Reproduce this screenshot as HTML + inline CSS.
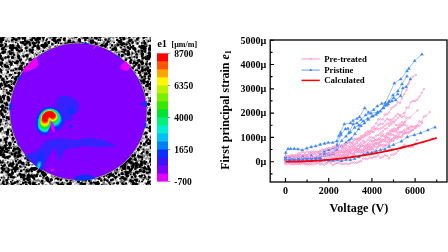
<!DOCTYPE html>
<html><head><meta charset="utf-8"><title>Strain figure</title>
<style>
html,body{margin:0;padding:0;background:#fff;}
svg{display:block;font-family:"Liberation Serif",serif;font-weight:bold;fill:#000;}
</style></head><body>
<svg width="448" height="252" viewBox="0 0 448 252">
<defs>
<filter id="spk" x="0" y="0" width="100%" height="100%" color-interpolation-filters="sRGB">
<feTurbulence type="fractalNoise" baseFrequency="0.35" numOctaves="2" seed="5" result="n"/>
<feColorMatrix type="matrix" values="1.8 0 0 0 -0.12  1.8 0 0 0 -0.12  1.8 0 0 0 -0.12  0 0 0 0 1"/>
</filter>
<filter id="soft" filterUnits="userSpaceOnUse" x="0" y="37" width="151" height="148"><feGaussianBlur stdDeviation="0.5"/></filter>
<filter id="soft2" filterUnits="userSpaceOnUse" x="0" y="37" width="151" height="148"><feGaussianBlur stdDeviation="0.35"/></filter>
<filter id="soft3" filterUnits="userSpaceOnUse" x="0" y="37" width="151" height="148"><feGaussianBlur stdDeviation="0.45"/></filter>
<clipPath id="imgclip"><rect x="0" y="37" width="151" height="148"/></clipPath>
<clipPath id="disk"><circle cx="78.3" cy="111.6" r="69.2"/></clipPath>
<clipPath id="nw0"><path clip-rule="evenodd" d="M0 0H160V200H0Z M51.4 124.8 L45.0 140 L61.0 140Z"/></clipPath>
<clipPath id="nw1"><path clip-rule="evenodd" d="M0 0H160V200H0Z M51.3 124.3 L44.4 140 L61.6 140Z"/></clipPath>
<clipPath id="nw2"><path clip-rule="evenodd" d="M0 0H160V200H0Z M51.2 123.9 L43.9 140 L62.1 140Z"/></clipPath>
<clipPath id="nw3"><path clip-rule="evenodd" d="M0 0H160V200H0Z M51.1 123.7 L43.6 140 L62.4 140Z"/></clipPath>
<clipPath id="nw4"><path clip-rule="evenodd" d="M0 0H160V200H0Z M51.1 123.5 L43.4 140 L62.6 140Z"/></clipPath>
<clipPath id="nw5"><path clip-rule="evenodd" d="M0 0H160V200H0Z M51.0 123.3 L43.2 140 L62.8 140Z"/></clipPath>
<clipPath id="nw6"><path clip-rule="evenodd" d="M0 0H160V200H0Z M51.0 123.2 L42.9 140 L63.1 140Z"/></clipPath>
<clipPath id="nw7"><path clip-rule="evenodd" d="M0 0H160V200H0Z M50.9 123.0 L42.7 140 L63.3 140Z"/></clipPath>
<clipPath id="nw8"><path clip-rule="evenodd" d="M0 0H160V200H0Z M50.9 122.8 L42.5 140 L63.5 140Z"/></clipPath>
<clipPath id="nw9"><path clip-rule="evenodd" d="M0 0H160V200H0Z M50.9 122.7 L42.3 140 L63.7 140Z"/></clipPath>
<clipPath id="nw10"><path clip-rule="evenodd" d="M0 0H160V200H0Z M50.8 122.5 L42.2 140 L63.8 140Z"/></clipPath>
<clipPath id="nw11"><path clip-rule="evenodd" d="M0 0H160V200H0Z M50.8 122.4 L42.0 140 L64.0 140Z"/></clipPath>
</defs>
<rect width="448" height="252" fill="#fff"/>
<!-- DIC strain map -->
<g clip-path="url(#imgclip)">
<rect x="0" y="37" width="151" height="148" fill="#fff" filter="url(#spk)"/>
<g filter="url(#soft3)">
<path stroke="#000" stroke-width="1.9" stroke-linecap="round" fill="none" d="M94.7 45.8h0M142.1 167.8h0M5.9 143.8h0M151.8 82.5h0M90.8 40.7h0M14.6 84.3h0M129.9 61.4h0M144.4 175.1h0M6.6 76.7h0M-0.7 44.2h0M5.8 49.8h0M133.7 62.9h0M142.0 45.2h0M104.7 179.0h0M145.7 164.1h0M130.4 171.0h0M17.8 175.8h0M5.4 111.7h0M16.2 76.6h0M148.5 139.0h0M6.7 90.0h0M15.7 42.4h0M33.2 36.4h0M28.9 67.4h0M3.2 52.5h0M74.0 45.0h0M6.9 145.2h0M141.7 81.1h0M89.6 36.5h0M12.9 61.6h0M143.8 49.2h0M136.2 145.9h0M35.8 43.3h0M29.5 170.0h0M110.4 47.6h0M52.6 185.4h0M43.7 176.1h0M13.7 144.4h0M5.2 147.8h0M43.0 51.5h0M61.9 47.6h0M134.7 157.1h0M148.8 41.3h0M1.0 100.9h0M6.8 117.9h0M138.6 157.3h0M145.8 59.3h0M28.8 174.1h0M144.3 177.6h0M11.1 70.5h0M124.1 36.8h0M146.1 46.4h0M82.6 43.1h0M7.4 149.9h0M58.6 184.1h0M19.1 57.8h0M52.9 173.2h0M46.9 39.2h0M141.7 163.3h0M146.4 162.0h0M132.5 53.2h0M130.9 161.3h0M148.4 76.5h0M11.5 84.1h0M0.1 160.9h0M148.8 139.7h0M150.7 45.9h0M135.8 160.0h0M12.5 132.2h0M44.7 171.0h0M7.4 108.3h0M59.8 45.9h0M47.1 177.2h0M111.2 171.4h0M58.4 43.0h0M113.1 174.2h0M134.3 56.7h0M49.2 181.7h0M43.4 39.7h0M18.3 185.9h0M55.0 185.9h0M0.8 107.0h0M12.6 180.6h0M146.5 64.7h0M146.2 36.9h0M91.1 40.3h0M26.8 50.7h0M148.3 78.3h0M134.8 72.6h0M124.4 46.6h0M7.6 171.7h0M43.1 177.9h0M2.8 166.7h0M25.8 155.3h0M7.1 92.9h0M135.3 49.7h0M100.3 40.3h0M87.2 36.1h0M0.1 41.7h0M34.0 185.6h0M93.5 182.3h0M26.6 155.8h0M128.3 42.4h0M132.3 168.5h0M114.0 183.4h0M10.9 181.8h0M-0.7 65.4h0M24.9 150.9h0M41.5 169.1h0M64.1 39.7h0M112.3 169.9h0M134.6 179.7h0M3.6 181.5h0M8.5 177.2h0M9.4 74.9h0M95.0 176.8h0M112.7 167.9h0M147.0 127.5h0M131.5 60.4h0M10.3 124.8h0M141.2 153.6h0M148.7 41.4h0M22.3 149.7h0M62.2 178.1h0M138.6 66.3h0M148.8 59.4h0M48.2 170.7h0M151.6 52.3h0M121.1 47.6h0M106.1 44.5h0M32.9 47.8h0M11.9 78.0h0M142.9 133.8h0M12.6 124.6h0M148.7 176.7h0M28.9 157.2h0M70.3 40.7h0M125.3 54.0h0M114.7 177.4h0M5.9 49.6h0M4.1 82.9h0M89.4 177.4h0M114.1 42.4h0M151.8 151.4h0M124.9 161.1h0M148.8 49.5h0M26.6 169.8h0M145.5 78.6h0M149.9 181.4h0M55.9 178.4h0M55.4 43.1h0M5.2 164.9h0M136.5 181.6h0M28.0 68.7h0M7.0 180.8h0M146.5 183.8h0M15.4 62.7h0M142.1 159.2h0M7.9 179.0h0M-0.7 101.9h0M15.6 135.1h0M61.0 43.4h0M1.4 72.5h0M149.1 79.3h0M25.9 55.5h0M31.3 159.7h0M3.3 153.1h0M0.8 99.2h0M2.8 150.5h0M6.1 41.5h0M144.1 90.9h0M150.1 89.4h0M34.3 179.4h0M91.1 44.0h0M7.8 158.2h0M132.0 166.3h0M147.8 120.1h0M138.9 79.4h0M43.6 47.2h0M13.4 164.1h0M34.5 175.3h0M17.7 159.6h0M8.9 85.8h0M138.3 37.7h0M39.0 184.0h0M122.4 36.9h0M143.4 179.7h0M78.4 44.8h0M19.7 161.4h0M56.9 36.2h0M6.3 152.0h0M128.5 172.2h0M43.4 50.9h0M12.0 183.2h0M50.7 180.8h0M61.3 179.0h0M23.9 37.6h0M11.3 147.9h0M142.4 61.4h0M13.1 53.1h0M1.1 113.2h0M25.5 38.0h0M122.0 45.3h0M121.1 60.7h0M2.5 39.7h0M32.7 49.7h0M1.0 56.3h0M13.6 70.5h0M95.4 42.6h0M47.4 45.2h0M148.5 142.9h0M8.3 168.4h0M142.6 70.3h0M85.6 37.8h0M114.0 169.8h0M73.6 36.2h0M145.7 132.8h0M6.2 184.4h0M44.6 172.6h0M28.2 180.5h0M33.6 42.4h0M149.3 57.7h0M13.1 162.5h0M143.0 87.4h0M98.5 36.7h0M80.3 184.0h0M44.7 52.5h0M145.4 176.8h0M116.4 166.2h0M100.4 37.8h0M24.3 175.7h0M25.4 158.4h0M123.0 174.3h0M23.0 177.4h0M37.6 163.6h0M132.5 162.7h0M24.0 169.7h0M110.1 185.8h0M122.7 165.6h0M7.1 78.5h0M150.9 83.4h0M38.3 40.9h0M121.8 170.5h0M24.4 37.1h0M26.6 66.2h0M146.0 46.5h0M6.6 102.7h0M7.8 162.1h0M49.7 182.2h0M10.6 177.1h0M62.2 182.5h0M141.5 84.0h0M91.8 37.3h0M146.7 74.6h0M1.4 165.3h0M104.0 176.8h0M15.8 68.4h0M-0.5 149.8h0M37.6 164.8h0M144.3 96.4h0M22.0 65.7h0M5.7 123.7h0M111.5 170.9h0M17.8 44.0h0M142.2 171.8h0M12.8 76.9h0M20.1 161.8h0M6.7 118.4h0M25.3 67.1h0M66.5 178.9h0M7.6 148.2h0M42.4 37.5h0M68.8 45.0h0M146.5 141.0h0M147.0 140.3h0M26.8 65.3h0M150.6 131.0h0M149.3 52.7h0M21.1 59.3h0M12.9 91.3h0M110.1 184.5h0M135.8 70.2h0M30.3 184.8h0M35.2 167.6h0M3.2 181.5h0M5.1 86.4h0M151.7 57.7h0M10.9 112.1h0M120.2 178.6h0M122.0 51.5h0M2.5 85.4h0M27.8 179.5h0M137.8 70.6h0M4.0 183.9h0M146.6 151.5h0M8.9 97.7h0M38.2 45.3h0M1.5 168.2h0M144.4 42.0h0M98.0 181.7h0M7.1 138.4h0M22.1 70.8h0M135.9 51.9h0M16.9 137.5h0M1.7 177.7h0M46.2 40.6h0M150.9 85.0h0M133.1 63.8h0M150.4 113.3h0M144.2 41.0h0M0.5 96.8h0M-0.2 124.7h0M63.9 38.5h0M50.2 49.2h0M6.5 120.4h0M8.8 150.6h0M11.1 74.8h0M145.1 47.3h0M143.5 151.9h0M2.0 66.8h0M1.2 89.0h0M5.8 140.1h0M4.3 103.2h0M94.5 182.6h0M20.8 147.6h0M5.9 76.1h0M142.0 181.4h0M141.2 46.5h0M143.3 149.5h0M13.4 151.3h0M150.4 56.6h0M0.4 63.1h0M148.0 182.8h0M133.0 48.8h0M129.2 43.4h0M146.4 73.1h0M40.0 176.1h0M26.5 164.8h0M142.9 134.1h0M148.4 179.8h0M79.1 44.0h0M11.7 52.9h0M130.8 174.5h0M84.6 36.9h0M125.3 174.8h0M10.5 62.2h0M141.9 43.0h0M147.2 61.5h0M11.8 164.5h0M145.1 105.4h0M20.3 60.8h0M123.1 49.4h0M142.1 153.0h0M85.6 179.4h0M-0.7 72.9h0M6.7 81.9h0M25.6 182.4h0M12.2 154.8h0M42.9 38.0h0M-0.6 103.0h0M36.0 169.5h0M12.2 177.4h0M116.7 176.7h0M74.9 43.3h0M150.7 40.7h0M128.2 168.4h0M120.5 57.6h0M147.1 140.6h0M41.4 56.8h0M28.7 158.1h0M60.5 185.3h0M7.6 66.0h0M72.0 178.5h0M121.1 39.7h0M77.2 43.2h0M8.9 81.4h0M130.2 45.3h0M115.4 178.6h0M55.4 36.5h0M36.8 42.0h0M14.9 169.9h0M20.8 175.2h0M85.2 180.4h0M45.7 178.1h0M12.6 134.6h0M106.4 175.9h0M7.8 82.2h0M56.2 182.7h0M55.1 176.3h0M5.3 95.4h0M36.8 54.7h0M139.3 181.2h0M34.2 45.2h0M98.5 40.0h0M85.8 42.9h0M12.0 170.3h0M0.6 45.7h0M133.4 72.0h0M43.7 47.4h0M20.4 161.7h0M108.3 177.2h0M101.9 184.6h0M137.7 62.7h0M13.7 91.3h0M25.4 167.2h0M108.9 39.1h0M4.6 164.8h0M143.9 81.2h0M61.0 37.4h0"/>
<path stroke="#000" stroke-width="2.6" stroke-linecap="round" fill="none" d="M34.9 185.3h0M3.7 165.8h0M108.3 174.2h0M31.3 160.7h0M132.5 42.6h0M133.8 183.1h0M93.9 177.1h0M148.6 114.2h0M0.8 98.3h0M2.1 128.4h0M8.2 130.1h0M2.4 45.1h0M146.4 73.7h0M117.2 40.0h0M133.6 184.0h0M33.8 46.2h0M5.9 171.5h0M87.3 38.0h0M62.3 176.9h0M129.7 48.9h0M11.2 62.8h0M105.4 46.7h0M134.8 154.9h0M4.5 151.1h0M108.4 52.0h0M21.8 50.4h0M2.5 107.9h0M21.0 184.7h0M126.7 159.2h0M111.2 180.0h0M0.1 86.2h0M88.5 179.3h0M13.8 177.2h0M146.1 136.9h0M16.2 152.8h0M27.3 64.4h0M144.2 93.5h0M-0.6 151.6h0M80.0 41.6h0M19.7 154.9h0M140.8 143.4h0M141.6 165.2h0M29.6 60.1h0M26.6 170.9h0M118.8 57.5h0M106.6 43.7h0M32.5 50.1h0M29.7 182.1h0M4.2 81.7h0M129.0 53.2h0M141.1 62.2h0M35.3 162.5h0M133.4 166.8h0M55.6 46.8h0M145.2 51.7h0M15.9 48.1h0M16.0 161.3h0M0.5 55.7h0M38.8 42.6h0M24.8 38.6h0M136.2 171.9h0M150.8 118.1h0M92.7 40.6h0M138.5 51.4h0M136.0 180.0h0M11.2 114.9h0M26.2 184.9h0M6.5 180.1h0M148.9 72.9h0M144.5 108.8h0M7.1 182.8h0M116.2 49.9h0M42.2 181.0h0M132.9 184.0h0M57.8 183.2h0M21.4 69.0h0M17.5 168.0h0M12.0 40.2h0M134.3 66.3h0M42.5 183.3h0M138.2 164.6h0M30.1 45.0h0M27.5 41.7h0M126.5 44.5h0M16.0 69.1h0M135.5 168.7h0M150.2 161.4h0M43.6 37.6h0M140.2 166.3h0M146.3 63.9h0M144.8 163.2h0M56.0 42.5h0M23.2 183.1h0M23.7 56.5h0M11.7 153.8h0M68.7 185.1h0M-0.7 78.2h0M25.1 40.9h0M13.7 83.4h0M36.9 174.7h0M137.6 43.2h0M102.5 174.9h0M112.8 179.5h0M7.9 71.9h0M136.6 54.3h0M137.5 173.1h0M140.2 82.7h0M15.3 170.8h0M16.4 83.5h0M55.0 37.6h0M108.5 41.6h0M142.4 68.1h0M1.2 64.8h0M147.4 68.5h0M18.6 163.0h0M60.9 179.8h0M32.1 51.1h0M143.9 133.5h0M10.1 108.7h0M39.2 55.9h0M29.5 179.6h0M101.7 36.2h0M8.9 118.9h0M13.4 163.7h0M130.9 158.8h0M127.7 175.8h0M133.3 149.9h0M112.2 175.3h0M134.1 36.0h0M146.2 168.7h0M86.4 177.8h0M3.8 154.9h0M141.5 156.7h0M0.8 120.8h0M33.0 42.9h0M126.4 65.6h0M9.6 61.8h0M17.5 181.6h0M145.0 106.5h0M15.7 168.6h0M22.8 74.4h0M93.0 177.7h0M25.4 182.3h0M85.0 183.8h0M34.4 161.7h0M5.5 107.8h0M-0.3 180.1h0M15.1 62.7h0M135.5 159.3h0M10.6 163.8h0M15.2 182.5h0M18.7 58.3h0M100.5 49.2h0M38.1 171.7h0M32.0 168.4h0M2.5 162.5h0M52.6 39.7h0M2.4 109.4h0M96.2 43.8h0M148.6 119.3h0M130.7 163.3h0M150.7 159.0h0M115.8 173.2h0M13.5 89.7h0M132.0 177.1h0M152.0 66.8h0M29.7 36.1h0M14.1 183.2h0M125.6 179.0h0M0.4 64.3h0M29.5 59.7h0M58.0 40.0h0M21.2 177.1h0M96.8 185.1h0M104.2 172.8h0M52.4 36.5h0M134.2 62.2h0M19.3 76.7h0M141.7 175.8h0M11.1 94.6h0M38.0 58.4h0M28.6 171.2h0M11.4 175.9h0M8.1 156.7h0M34.7 185.7h0M84.4 37.7h0M21.1 78.5h0M132.0 168.6h0M10.1 164.7h0M0.1 45.4h0M1.9 109.7h0M38.3 37.6h0M150.2 143.5h0M48.1 181.0h0M17.3 168.8h0M12.6 37.0h0M10.3 90.8h0M109.4 182.6h0M99.8 36.8h0M0.8 98.8h0M21.2 170.9h0M108.8 177.3h0M125.5 171.7h0M41.5 45.6h0M3.7 47.7h0M124.0 52.2h0M48.1 179.2h0M0.6 162.5h0M9.3 148.1h0M5.2 65.0h0M150.5 121.3h0M21.5 163.3h0M38.0 39.2h0M71.8 43.0h0M10.2 145.1h0M21.0 42.5h0M33.3 177.5h0M143.8 37.6h0M142.5 91.0h0M35.5 45.8h0M13.9 38.9h0M143.6 47.8h0M120.4 37.6h0M12.3 134.6h0M129.9 57.8h0M28.4 162.8h0M147.9 84.6h0M137.6 171.7h0M20.3 166.6h0M-0.5 68.9h0M119.0 41.3h0M137.2 39.1h0M13.6 48.0h0M149.3 172.2h0M30.1 183.2h0M22.8 70.3h0M31.3 52.0h0M69.0 41.3h0M115.0 169.2h0M9.2 165.8h0M145.9 120.5h0M0.6 140.4h0M125.2 166.3h0M15.2 171.6h0M117.1 169.6h0M1.3 46.3h0M125.8 59.9h0M34.0 178.2h0M36.5 39.1h0M151.6 82.1h0M95.7 36.5h0M105.0 173.2h0M52.3 44.3h0M123.4 184.9h0M133.1 46.4h0M145.3 106.9h0M13.1 99.5h0M40.7 56.5h0M12.3 164.7h0M2.4 149.1h0M89.3 180.7h0M23.5 72.4h0M47.4 177.8h0M32.6 52.8h0M10.6 109.3h0M144.6 161.6h0M6.2 86.0h0M151.6 40.0h0M151.3 98.2h0M5.1 157.6h0M15.2 142.0h0M14.0 54.8h0M29.7 43.4h0M4.1 155.6h0M150.6 126.7h0M70.0 43.1h0M148.6 58.4h0M140.5 75.2h0M33.9 59.6h0M17.9 156.6h0M5.4 111.9h0M101.5 185.8h0M109.8 175.3h0M81.4 183.0h0M58.8 185.5h0M28.7 165.0h0M18.7 37.1h0M122.4 165.9h0M4.4 110.5h0M102.0 45.0h0M44.4 45.4h0M131.4 39.8h0M144.0 104.0h0M5.9 44.5h0M63.5 176.1h0M105.4 39.6h0M146.3 142.3h0M31.4 175.6h0M38.2 45.7h0M48.9 42.8h0M7.9 67.0h0M104.6 180.0h0M148.3 166.8h0M6.8 117.3h0M11.9 119.5h0M120.8 60.0h0M121.7 165.9h0M7.2 152.0h0M102.6 173.0h0M33.7 44.3h0M131.2 47.3h0M138.3 155.7h0M132.0 177.3h0M130.7 62.8h0M121.1 166.3h0M3.0 106.3h0M15.6 85.6h0M70.6 180.0h0M5.5 46.3h0M13.3 150.6h0M42.5 54.0h0M7.0 157.3h0M136.8 57.5h0M150.0 45.8h0M131.0 60.3h0M10.4 45.4h0M142.0 46.5h0M5.5 57.5h0M3.9 98.4h0M121.9 165.8h0M147.2 172.8h0M16.3 152.9h0M1.4 150.7h0M144.0 83.3h0M137.0 142.7h0M132.7 156.2h0M34.1 43.4h0M22.8 38.4h0M150.9 127.2h0M141.3 161.5h0M12.0 185.0h0M64.8 38.5h0M22.2 175.1h0M112.0 45.4h0M151.4 87.5h0M7.2 138.1h0M144.7 76.2h0M5.0 65.7h0M104.3 45.8h0M151.7 181.3h0M85.3 40.0h0M148.1 71.1h0M140.5 147.0h0M135.8 64.4h0M2.4 154.9h0M146.5 133.0h0M-0.5 124.6h0M9.6 156.5h0M142.4 55.8h0M119.1 175.1h0M148.4 166.2h0M137.9 82.7h0M147.9 67.9h0M139.7 176.2h0M139.1 68.1h0M11.2 81.5h0M36.7 168.5h0M139.6 46.5h0M120.8 44.2h0M20.6 66.2h0M20.2 60.3h0M149.3 119.4h0M3.8 185.0h0M139.9 166.7h0M-0.5 148.5h0M53.9 38.4h0M151.1 128.4h0M19.3 47.5h0M121.3 42.2h0M113.6 176.1h0M150.8 70.4h0M142.1 157.6h0M137.5 167.2h0M12.6 90.8h0M34.0 168.2h0M107.4 180.6h0M0.9 119.8h0M151.1 71.1h0M2.1 79.6h0M2.0 168.2h0M30.5 160.6h0M110.5 173.4h0M150.3 83.7h0M16.4 79.7h0M11.5 131.0h0M127.9 160.0h0M15.2 73.0h0M48.5 50.2h0M15.6 81.8h0M118.9 54.8h0M16.8 165.0h0M135.4 176.5h0M142.2 128.3h0M149.4 177.5h0M145.5 48.5h0M135.7 163.0h0M1.2 58.5h0M11.8 115.1h0M134.5 159.5h0M101.3 180.5h0M29.8 176.7h0M17.9 45.6h0M29.1 42.2h0M142.6 81.4h0M9.5 51.5h0M52.0 172.2h0M55.4 37.6h0M129.2 54.5h0M7.0 82.5h0M6.1 142.0h0M148.0 56.1h0M34.6 183.1h0M12.3 172.2h0M115.6 49.7h0M47.9 51.7h0M96.5 38.4h0M1.9 172.3h0M148.4 182.1h0M107.8 42.1h0M136.4 166.3h0M116.0 177.2h0M150.3 140.8h0M150.6 100.9h0M49.0 42.1h0M42.9 174.5h0M8.8 170.3h0M145.3 50.6h0M4.7 151.8h0M64.4 39.9h0M123.5 168.8h0M122.4 183.3h0M6.6 132.1h0M31.7 171.3h0M145.2 74.1h0M19.4 38.5h0M141.7 48.1h0M73.7 44.2h0M70.3 184.5h0M4.4 169.1h0M12.9 96.6h0M28.8 182.6h0M126.0 183.5h0M7.8 172.5h0M151.1 184.7h0M-0.2 128.8h0M56.5 41.5h0M142.0 77.2h0M68.3 43.0h0M144.1 103.3h0M143.9 46.4h0M0.6 111.4h0M127.8 47.4h0M141.3 86.8h0M150.3 170.1h0M129.3 37.2h0M144.7 167.4h0M127.4 157.0h0M14.9 82.3h0M3.0 182.9h0M141.9 55.9h0M17.3 149.1h0M69.1 45.3h0M2.6 59.9h0"/>
<path stroke="#000" stroke-width="3.4" stroke-linecap="round" fill="none" d="M101.7 45.6h0M19.8 68.5h0M141.1 164.5h0M130.7 180.7h0M42.6 45.5h0M150.4 49.3h0M22.9 42.4h0M47.0 179.8h0M28.2 157.0h0M18.8 79.8h0M22.9 36.7h0M140.3 170.5h0M124.0 61.7h0M140.0 156.9h0M0.1 130.3h0M18.1 46.3h0M142.3 92.1h0M-0.3 57.5h0M127.8 54.2h0M144.7 122.9h0M11.7 111.0h0M12.1 49.9h0M16.2 169.1h0M9.5 143.4h0M3.6 156.5h0M85.6 179.9h0M10.9 116.8h0M59.7 40.0h0M13.3 138.4h0M7.3 134.1h0M121.9 173.6h0M2.5 106.0h0M0.8 70.5h0M26.2 47.9h0M16.2 39.6h0M32.3 60.8h0M149.9 127.8h0M144.1 171.5h0M61.3 185.6h0M148.4 182.9h0M6.7 66.6h0M70.3 182.9h0M19.8 149.7h0M100.8 175.3h0M129.2 160.1h0M19.1 73.5h0M145.5 57.6h0M28.0 159.4h0M28.4 176.9h0M132.1 155.1h0M91.0 183.1h0M9.6 99.8h0M117.9 44.9h0M3.5 116.8h0M125.7 161.7h0M132.3 68.4h0M142.5 54.0h0M66.7 44.4h0M149.9 87.9h0M30.1 50.0h0M33.1 183.8h0M148.1 85.0h0M46.2 45.4h0M5.1 145.9h0M110.3 51.6h0M139.0 65.2h0M148.9 56.7h0M143.9 80.0h0M21.2 68.3h0M37.9 38.7h0M142.5 70.4h0M127.2 176.1h0M30.2 59.2h0M17.4 61.5h0M149.2 53.2h0M11.0 117.1h0M128.4 167.5h0M151.8 137.5h0M19.9 145.3h0M34.9 60.7h0M44.3 47.0h0M126.2 64.8h0M73.8 42.7h0M96.1 45.3h0M106.4 44.7h0M125.6 161.0h0M148.9 168.8h0M115.3 48.5h0M8.1 99.3h0M61.3 184.8h0M148.5 104.3h0M12.4 88.6h0M3.0 52.5h0M133.3 164.4h0M18.2 156.0h0M112.9 49.3h0M150.2 130.7h0M146.7 94.4h0M99.0 178.3h0M149.8 48.4h0M95.3 37.1h0M45.3 174.6h0M10.3 53.4h0M49.9 51.2h0M26.0 69.9h0M28.3 159.2h0M150.2 154.8h0M0.6 154.4h0M6.3 104.1h0M151.7 164.4h0M138.6 81.7h0M1.6 101.9h0M66.8 180.0h0M51.3 179.8h0M16.0 167.3h0M105.6 50.7h0M116.8 36.1h0M28.1 175.7h0M18.9 152.3h0M151.5 147.6h0M58.0 178.5h0M38.0 47.5h0M123.5 36.4h0M2.5 48.9h0M111.1 175.1h0M27.4 178.9h0M10.1 117.8h0M31.6 169.2h0M107.7 173.5h0M5.1 139.3h0M15.6 78.8h0M6.9 104.4h0M18.6 76.4h0M12.7 45.7h0M14.1 168.6h0M136.3 163.2h0M149.6 70.4h0M101.0 46.1h0M147.5 58.7h0M138.3 149.5h0M144.2 144.2h0M19.3 51.1h0M2.8 39.6h0M0.1 147.8h0M68.2 184.1h0M82.1 44.0h0M96.4 183.4h0M131.6 162.9h0M134.2 174.3h0M14.4 148.9h0M3.2 169.8h0M14.8 154.0h0M45.4 43.8h0M0.1 38.8h0M93.2 42.1h0M10.9 53.3h0M149.8 54.4h0M27.0 42.4h0M128.7 161.2h0M94.7 47.1h0M127.8 160.1h0M64.1 46.5h0M11.2 64.2h0M82.7 179.3h0M20.0 174.1h0M142.3 63.6h0M17.2 49.6h0M46.9 52.7h0M130.4 170.0h0M132.5 181.2h0M28.4 175.4h0M124.9 168.4h0M147.4 82.1h0M123.3 167.9h0M150.1 63.9h0M129.8 40.8h0M79.4 39.8h0M98.3 183.6h0M18.6 56.4h0M0.5 76.6h0M78.4 181.5h0M3.0 37.5h0M12.0 165.8h0M12.7 47.3h0M122.3 55.4h0M16.6 135.1h0M32.9 176.8h0M124.7 179.0h0M82.6 178.6h0M8.4 93.3h0M144.7 168.1h0M140.0 81.2h0M123.6 162.2h0M11.3 122.0h0M1.1 151.8h0M145.3 69.6h0M33.7 37.4h0M5.0 84.3h0M63.0 185.3h0M136.4 184.3h0M127.9 172.7h0M4.4 51.9h0M2.9 79.3h0M68.5 178.2h0M24.1 175.5h0M1.1 41.7h0M144.9 43.4h0M39.2 170.7h0M11.7 110.0h0M138.8 60.4h0M139.4 72.5h0M151.3 141.4h0M136.5 165.7h0M8.1 97.4h0M9.3 174.8h0M12.5 57.4h0M0.1 121.4h0M135.8 63.1h0M142.2 162.8h0M36.3 185.7h0M6.2 148.6h0M65.3 176.6h0M12.6 163.9h0M0.0 86.6h0M9.9 143.3h0M28.7 65.8h0M148.6 143.5h0M131.3 69.2h0M40.0 36.0h0M20.3 155.5h0M25.0 44.4h0M38.8 48.3h0M1.8 62.9h0M12.3 173.2h0M124.4 164.8h0M2.1 114.5h0M44.0 175.2h0M19.4 141.4h0M42.2 172.6h0M91.3 42.3h0M24.3 179.0h0M65.8 43.9h0M136.5 180.3h0M122.6 177.5h0M117.5 183.1h0M3.4 168.9h0M7.7 132.1h0M76.3 36.5h0M82.8 184.3h0M8.7 85.8h0M69.0 41.2h0M142.9 58.1h0M14.9 155.6h0M17.9 148.5h0M20.3 161.6h0M22.8 63.1h0M42.2 54.9h0M44.2 169.5h0M119.7 41.7h0M150.1 109.9h0M9.0 99.2h0M42.9 172.2h0M10.5 87.3h0M150.5 75.8h0M125.1 50.0h0M69.1 43.5h0M146.7 85.7h0M142.6 63.3h0M27.2 55.5h0M39.3 38.8h0M128.1 51.6h0M129.3 158.4h0M16.9 62.8h0M8.2 56.9h0M54.5 40.4h0M17.0 81.3h0M11.3 113.0h0M144.2 81.5h0M23.0 163.2h0M36.4 175.9h0M142.2 51.1h0M2.4 148.7h0M10.5 47.7h0M126.2 173.5h0M123.5 43.7h0M149.8 122.3h0M123.9 38.8h0M-0.7 54.4h0M134.5 48.6h0M31.6 39.9h0M148.7 113.3h0M1.2 84.1h0M35.9 39.7h0M3.3 96.5h0M34.5 169.2h0M8.4 118.0h0M40.5 170.3h0M147.2 152.4h0"/>
</g></g>
<g clip-path="url(#disk)">
<circle cx="78.3" cy="111.6" r="68.8" fill="#8200ff" stroke="#a4d860" stroke-width="0.8"/>
<g filter="url(#soft)">
<path fill="#3424ff" d="M56.5 104 C56.5 98 60 95.5 66 96 C72 96.5 78 100 79 105 C80 110 76 113 73 116 C72 119 71 121 69 121 C65 121 63 118 62 115 C60 111 56.5 109 56.5 104Z"/>
<ellipse cx="70.3" cy="110.8" rx="3.2" ry="3.6" fill="#1030ff"/>
<circle cx="71.2" cy="126.2" r="1.5" fill="#1030ff"/>
<path fill="#3424ff" d="M44.6 142.3 C47 140.5 49 139.6 51.3 139.4 C56 138.6 62 138.6 67 138.9 C70 139.2 72 139.8 73.7 140 C77 140.3 80 139.2 84 138.4 C89 137.6 94 138.2 97.9 139.3 C101 140.2 104 140.6 106.8 141.4 C110 142.4 113 143.6 116 145 C113 146.4 110 147.1 106.8 147.1 C104 147.2 101 147.2 97.9 147.1 C94 147 91 146.6 89 146.4 C85 146 82 146.6 79 147.6 C76 148.2 72 148 68 148.5 C66 149.5 64.8 150.3 63.9 151.2 C63 152.5 62.5 154 61.9 155.2 C61.3 157.5 60.7 159.3 59.9 160.6 C58.6 159.5 58 158 57.8 156.6 C57.5 154 57 151.5 56.5 149.8 L54.5 148.5 C53 150.5 51.5 152.3 50.4 153.9 C49.3 155.3 48.4 156.6 47.7 157.9 C46.8 159.8 46.2 161.5 45.7 163.3 C45 165.3 44.3 167 43.7 168.7 L42 172 L30 168 L20 158 L24.8 155.2 C29 154 33 152.6 35.6 151.2 C38 149.5 40 148 41 147.1 C42.5 145 43.5 143.5 44.6 142.3Z"/>
<ellipse cx="40.6" cy="157.5" rx="2.6" ry="5.4" transform="rotate(25 40.6 157.5)" fill="#1030ff"/>
<ellipse cx="39.2" cy="164.6" rx="2.2" ry="3.6" transform="rotate(15 39.2 164.6)" fill="#0080f2"/>
<ellipse cx="38.9" cy="165.6" rx="1.3" ry="2.6" transform="rotate(15 38.9 165.6)" fill="#00d8ff"/>
<ellipse cx="17.8" cy="145" rx="1.4" ry="2.2" fill="#1030ff"/>
<ellipse cx="85" cy="179.5" rx="10.5" ry="4.8" fill="#1030ff"/>
<path d="M140.3 104.2 L147 100.8 L148 107.4 Z" fill="#1030ff"/>
<ellipse cx="118.8" cy="56.6" rx="1.6" ry="1.1" fill="#1030ff"/>
<ellipse cx="10" cy="106.5" rx="2" ry="4" fill="#1030ff"/>
<ellipse cx="19" cy="78" rx="2" ry="2.5" fill="#1030ff"/>
<ellipse cx="86.5" cy="43" rx="3.5" ry="1.2" fill="#1030ff"/>
<ellipse cx="145.5" cy="126" rx="1.5" ry="3" fill="#1030ff"/>
<ellipse cx="127" cy="163" rx="2" ry="2" fill="#1030ff"/>
<path fill="#e800ff" d="M36.7 57 L38.7 65.2 L35.3 68.6 L25.2 72 L22 71 L28 62Z"/>
<path fill="#e800ff" d="M120 67.5 C121 64 124 61.5 127.5 61 L131 66 L128 71 C125 71 121.5 70 120 67.5Z"/>
<path stroke="#e800ff" stroke-width="1.2" d="M93.1 48.9L96.5 45.1"/>
<ellipse cx="52.4" cy="170.2" rx="2.2" ry="1.1" fill="#e800ff"/>
</g>
<g filter="url(#soft2)">
<path clip-path="url(#nw0)" fill="none" stroke="#3424ff" stroke-width="20.4" stroke-linecap="round" d="M45.6 125.5 C44.2 114.8 54.0 114.8 55.0 121.0"/>
<path clip-path="url(#nw1)" fill="none" stroke="#1030ff" stroke-width="17.6" stroke-linecap="round" d="M45.3 125.3 C44.3 114.3 53.6 114.3 54.6 120.1"/>
<path clip-path="url(#nw2)" fill="none" stroke="#0080f2" stroke-width="15.0" stroke-linecap="round" d="M45.1 125.2 C44.3 113.9 53.3 113.9 54.2 119.3"/>
<path clip-path="url(#nw3)" fill="none" stroke="#00bff2" stroke-width="13.6" stroke-linecap="round" d="M45.0 125.1 C44.4 113.6 53.1 113.6 54.0 118.9"/>
<path clip-path="url(#nw4)" fill="none" stroke="#00efd2" stroke-width="12.4" stroke-linecap="round" d="M44.9 125.0 C44.4 113.4 52.9 113.4 53.8 118.5"/>
<path clip-path="url(#nw5)" fill="none" stroke="#00f07e" stroke-width="11.4" stroke-linecap="round" d="M44.8 124.7 C44.4 113.3 52.7 113.3 53.7 118.2"/>
<path clip-path="url(#nw6)" fill="none" stroke="#00e232" stroke-width="10.4" stroke-linecap="round" d="M44.8 123.7 C44.6 113.5 52.2 113.2 53.4 117.7"/>
<path clip-path="url(#nw7)" fill="none" stroke="#7af000" stroke-width="9.4" stroke-linecap="round" d="M44.8 122.7 C44.7 113.6 51.7 113.1 53.2 117.2"/>
<path clip-path="url(#nw8)" fill="none" stroke="#fff800" stroke-width="8.4" stroke-linecap="round" d="M44.9 121.6 C44.9 113.8 51.2 113.0 53.0 116.7"/>
<path clip-path="url(#nw9)" fill="none" stroke="#ffa400" stroke-width="7.4" stroke-linecap="round" d="M44.9 120.6 C45.1 114.0 50.8 112.9 52.8 116.2"/>
<path clip-path="url(#nw10)" fill="none" stroke="#ff5506" stroke-width="6.6" stroke-linecap="round" d="M44.9 119.7 C45.2 114.1 50.4 112.9 52.7 115.8"/>
<path clip-path="url(#nw11)" fill="none" stroke="#fc0404" stroke-width="5.8" stroke-linecap="round" d="M44.9 118.9 C45.3 114.2 50.0 112.8 52.5 115.4"/>
<path fill="#e800ff" d="M50.3 121.6 L53.2 122.8 L55.2 131.2 L53.6 132.6 L51.0 128 Z"/>
</g>
</g>
<!-- colour bar -->
<rect x="157" y="53.30" width="11" height="8.62" fill="#fc0404"/>
<rect x="157" y="61.32" width="11" height="8.62" fill="#ff5506"/>
<rect x="157" y="69.34" width="11" height="8.62" fill="#ffa400"/>
<rect x="157" y="77.36" width="11" height="8.62" fill="#fff800"/>
<rect x="157" y="85.38" width="11" height="8.62" fill="#bdf200"/>
<rect x="157" y="93.39" width="11" height="8.62" fill="#7af000"/>
<rect x="157" y="101.41" width="11" height="8.62" fill="#36e800"/>
<rect x="157" y="109.43" width="11" height="8.62" fill="#00e232"/>
<rect x="157" y="117.45" width="11" height="8.62" fill="#00f07e"/>
<rect x="157" y="125.47" width="11" height="8.62" fill="#00efd2"/>
<rect x="157" y="133.49" width="11" height="8.62" fill="#00bff2"/>
<rect x="157" y="141.51" width="11" height="8.62" fill="#0080f2"/>
<rect x="157" y="149.53" width="11" height="8.62" fill="#0a30ff"/>
<rect x="157" y="157.54" width="11" height="8.62" fill="#3a12ff"/>
<rect x="157" y="165.56" width="11" height="8.62" fill="#8000ff"/>
<rect x="157" y="173.58" width="11" height="8.02" fill="#e400ff"/>
<text x="174.3" y="56.5" font-size="9.5">8700</text>
<text x="174.3" y="88.6" font-size="9.5">6350</text>
<text x="174.3" y="120.7" font-size="9.5">4000</text>
<text x="174.3" y="152.7" font-size="9.5">1650</text>
<text x="174.3" y="184.8" font-size="9.5">-700</text>
<path d="M168 53.3h2.3M168 85.4h2.3M168 117.5h2.3M168 149.5h2.3M168 181.6h2.3" stroke="#444" stroke-width="0.6"/>
<text x="157.2" y="46.6" font-size="10.5">e1</text>
<text x="171.6" y="46.6" font-size="8">[µm/m]</text>
<!-- chart -->
<polyline fill="none" stroke="#fb7cc0" stroke-width="0.42" points="285.5,159.9 287.7,160.1 289.8,159.6 292.0,159.4 294.1,158.9 296.3,159.1 298.5,159.7 300.6,159.2 302.8,159.3 304.9,158.6 307.1,158.5 309.3,158.2 311.4,156.9 313.6,158.2 315.7,157.7 317.9,157.5 320.1,155.9 322.2,155.3 324.4,155.4 326.5,155.2 328.7,155.3 330.9,154.5 333.0,154.5 335.2,153.1 337.3,153.3 339.5,152.9 341.7,151.2 343.8,152.1 346.0,150.2 348.1,149.7 350.3,147.3 352.5,145.9 354.6,144.1 356.8,142.1 358.9,140.5 361.1,138.0 363.3,135.4 365.4,133.0 367.6,131.4 369.7,131.4 371.9,127.9 374.1,126.6 376.2,123.2 378.4,119.4 380.5,119.4 382.7,119.4 384.9,114.7 387.0,114.3 389.2,112.4 391.3,108.4 393.5,106.7 395.7,105.0 397.8,102.4 400.0,102.7 402.1,98.1 404.3,94.1 406.5,90.0 408.6,83.8 410.8,78.8 412.9,76.6 415.8,75.0"/>
<path fill="#fff" stroke="#fb7cc0" stroke-width="0.6" d="M284.7 159.9a0.80 0.80 0 1 0 1.60 0a0.80 0.80 0 1 0 -1.60 0M286.9 160.1a0.80 0.80 0 1 0 1.60 0a0.80 0.80 0 1 0 -1.60 0M289.0 159.6a0.80 0.80 0 1 0 1.60 0a0.80 0.80 0 1 0 -1.60 0M291.2 159.4a0.80 0.80 0 1 0 1.60 0a0.80 0.80 0 1 0 -1.60 0M293.3 158.9a0.80 0.80 0 1 0 1.60 0a0.80 0.80 0 1 0 -1.60 0M295.5 159.1a0.80 0.80 0 1 0 1.60 0a0.80 0.80 0 1 0 -1.60 0M297.7 159.7a0.80 0.80 0 1 0 1.60 0a0.80 0.80 0 1 0 -1.60 0M299.8 159.2a0.80 0.80 0 1 0 1.60 0a0.80 0.80 0 1 0 -1.60 0M302.0 159.3a0.80 0.80 0 1 0 1.60 0a0.80 0.80 0 1 0 -1.60 0M304.1 158.6a0.80 0.80 0 1 0 1.60 0a0.80 0.80 0 1 0 -1.60 0M306.3 158.5a0.80 0.80 0 1 0 1.60 0a0.80 0.80 0 1 0 -1.60 0M308.5 158.2a0.80 0.80 0 1 0 1.60 0a0.80 0.80 0 1 0 -1.60 0M310.6 156.9a0.80 0.80 0 1 0 1.60 0a0.80 0.80 0 1 0 -1.60 0M312.8 158.2a0.80 0.80 0 1 0 1.60 0a0.80 0.80 0 1 0 -1.60 0M314.9 157.7a0.80 0.80 0 1 0 1.60 0a0.80 0.80 0 1 0 -1.60 0M317.1 157.5a0.80 0.80 0 1 0 1.60 0a0.80 0.80 0 1 0 -1.60 0M319.3 155.9a0.80 0.80 0 1 0 1.60 0a0.80 0.80 0 1 0 -1.60 0M321.4 155.3a0.80 0.80 0 1 0 1.60 0a0.80 0.80 0 1 0 -1.60 0M323.6 155.4a0.80 0.80 0 1 0 1.60 0a0.80 0.80 0 1 0 -1.60 0M325.7 155.2a0.80 0.80 0 1 0 1.60 0a0.80 0.80 0 1 0 -1.60 0M327.9 155.3a0.80 0.80 0 1 0 1.60 0a0.80 0.80 0 1 0 -1.60 0M330.1 154.5a0.80 0.80 0 1 0 1.60 0a0.80 0.80 0 1 0 -1.60 0M332.2 154.5a0.80 0.80 0 1 0 1.60 0a0.80 0.80 0 1 0 -1.60 0M334.4 153.1a0.80 0.80 0 1 0 1.60 0a0.80 0.80 0 1 0 -1.60 0M336.5 153.3a0.80 0.80 0 1 0 1.60 0a0.80 0.80 0 1 0 -1.60 0M338.7 152.9a0.80 0.80 0 1 0 1.60 0a0.80 0.80 0 1 0 -1.60 0M340.9 151.2a0.80 0.80 0 1 0 1.60 0a0.80 0.80 0 1 0 -1.60 0M343.0 152.1a0.80 0.80 0 1 0 1.60 0a0.80 0.80 0 1 0 -1.60 0M345.2 150.2a0.80 0.80 0 1 0 1.60 0a0.80 0.80 0 1 0 -1.60 0M347.3 149.7a0.80 0.80 0 1 0 1.60 0a0.80 0.80 0 1 0 -1.60 0M349.5 147.3a0.80 0.80 0 1 0 1.60 0a0.80 0.80 0 1 0 -1.60 0M351.7 145.9a0.80 0.80 0 1 0 1.60 0a0.80 0.80 0 1 0 -1.60 0M353.8 144.1a0.80 0.80 0 1 0 1.60 0a0.80 0.80 0 1 0 -1.60 0M356.0 142.1a0.80 0.80 0 1 0 1.60 0a0.80 0.80 0 1 0 -1.60 0M358.1 140.5a0.80 0.80 0 1 0 1.60 0a0.80 0.80 0 1 0 -1.60 0M360.3 138.0a0.80 0.80 0 1 0 1.60 0a0.80 0.80 0 1 0 -1.60 0M362.5 135.4a0.80 0.80 0 1 0 1.60 0a0.80 0.80 0 1 0 -1.60 0M364.6 133.0a0.80 0.80 0 1 0 1.60 0a0.80 0.80 0 1 0 -1.60 0M366.8 131.4a0.80 0.80 0 1 0 1.60 0a0.80 0.80 0 1 0 -1.60 0M368.9 131.4a0.80 0.80 0 1 0 1.60 0a0.80 0.80 0 1 0 -1.60 0M371.1 127.9a0.80 0.80 0 1 0 1.60 0a0.80 0.80 0 1 0 -1.60 0M373.3 126.6a0.80 0.80 0 1 0 1.60 0a0.80 0.80 0 1 0 -1.60 0M375.4 123.2a0.80 0.80 0 1 0 1.60 0a0.80 0.80 0 1 0 -1.60 0M377.6 119.4a0.80 0.80 0 1 0 1.60 0a0.80 0.80 0 1 0 -1.60 0M379.7 119.4a0.80 0.80 0 1 0 1.60 0a0.80 0.80 0 1 0 -1.60 0M381.9 119.4a0.80 0.80 0 1 0 1.60 0a0.80 0.80 0 1 0 -1.60 0M384.1 114.7a0.80 0.80 0 1 0 1.60 0a0.80 0.80 0 1 0 -1.60 0M386.2 114.3a0.80 0.80 0 1 0 1.60 0a0.80 0.80 0 1 0 -1.60 0M388.4 112.4a0.80 0.80 0 1 0 1.60 0a0.80 0.80 0 1 0 -1.60 0M390.5 108.4a0.80 0.80 0 1 0 1.60 0a0.80 0.80 0 1 0 -1.60 0M392.7 106.7a0.80 0.80 0 1 0 1.60 0a0.80 0.80 0 1 0 -1.60 0M394.9 105.0a0.80 0.80 0 1 0 1.60 0a0.80 0.80 0 1 0 -1.60 0M397.0 102.4a0.80 0.80 0 1 0 1.60 0a0.80 0.80 0 1 0 -1.60 0M399.2 102.7a0.80 0.80 0 1 0 1.60 0a0.80 0.80 0 1 0 -1.60 0M401.3 98.1a0.80 0.80 0 1 0 1.60 0a0.80 0.80 0 1 0 -1.60 0M403.5 94.1a0.80 0.80 0 1 0 1.60 0a0.80 0.80 0 1 0 -1.60 0M405.7 90.0a0.80 0.80 0 1 0 1.60 0a0.80 0.80 0 1 0 -1.60 0M407.8 83.8a0.80 0.80 0 1 0 1.60 0a0.80 0.80 0 1 0 -1.60 0M410.0 78.8a0.80 0.80 0 1 0 1.60 0a0.80 0.80 0 1 0 -1.60 0M412.1 76.6a0.80 0.80 0 1 0 1.60 0a0.80 0.80 0 1 0 -1.60 0M415.0 75.0a0.80 0.80 0 1 0 1.60 0a0.80 0.80 0 1 0 -1.60 0"/>
<polyline fill="none" stroke="#fb7cc0" stroke-width="0.42" points="285.5,157.7 287.7,157.5 289.8,156.8 292.0,156.6 294.1,156.5 296.3,157.2 298.5,155.1 300.6,155.1 302.8,155.6 304.9,155.9 307.1,155.0 309.3,153.1 311.4,152.3 313.6,153.6 315.7,152.5 317.9,151.5 320.1,152.2 322.2,151.5 324.4,150.2 326.5,149.6 328.7,149.2 330.9,149.4 333.0,148.1 335.2,147.6 337.3,147.3 339.5,145.3 341.7,147.1 343.8,146.2 346.0,145.1 348.1,142.2 350.3,142.4 352.5,142.7 354.6,139.4 356.8,139.7 358.9,139.7 361.1,136.1 363.3,137.3 365.4,134.9 367.6,132.8 369.7,131.9 371.9,130.8 374.1,128.9 376.2,128.5 378.4,125.2 380.5,124.1 382.7,123.9 384.9,121.3 387.0,118.9 389.2,119.7 391.3,119.8 393.5,118.5 395.7,116.0 397.8,113.9 400.0,115.0 402.1,116.8 404.3,116.4 406.5,107.9 408.6,107.5 410.8,102.4 412.9,100.9 415.1,100.8 417.3,99.6 419.4,96.6 421.6,93.0 423.9,88.9"/>
<path fill="#fff" stroke="#fb7cc0" stroke-width="0.6" d="M284.7 157.7a0.80 0.80 0 1 0 1.60 0a0.80 0.80 0 1 0 -1.60 0M286.9 157.5a0.80 0.80 0 1 0 1.60 0a0.80 0.80 0 1 0 -1.60 0M289.0 156.8a0.80 0.80 0 1 0 1.60 0a0.80 0.80 0 1 0 -1.60 0M291.2 156.6a0.80 0.80 0 1 0 1.60 0a0.80 0.80 0 1 0 -1.60 0M293.3 156.5a0.80 0.80 0 1 0 1.60 0a0.80 0.80 0 1 0 -1.60 0M295.5 157.2a0.80 0.80 0 1 0 1.60 0a0.80 0.80 0 1 0 -1.60 0M297.7 155.1a0.80 0.80 0 1 0 1.60 0a0.80 0.80 0 1 0 -1.60 0M299.8 155.1a0.80 0.80 0 1 0 1.60 0a0.80 0.80 0 1 0 -1.60 0M302.0 155.6a0.80 0.80 0 1 0 1.60 0a0.80 0.80 0 1 0 -1.60 0M304.1 155.9a0.80 0.80 0 1 0 1.60 0a0.80 0.80 0 1 0 -1.60 0M306.3 155.0a0.80 0.80 0 1 0 1.60 0a0.80 0.80 0 1 0 -1.60 0M308.5 153.1a0.80 0.80 0 1 0 1.60 0a0.80 0.80 0 1 0 -1.60 0M310.6 152.3a0.80 0.80 0 1 0 1.60 0a0.80 0.80 0 1 0 -1.60 0M312.8 153.6a0.80 0.80 0 1 0 1.60 0a0.80 0.80 0 1 0 -1.60 0M314.9 152.5a0.80 0.80 0 1 0 1.60 0a0.80 0.80 0 1 0 -1.60 0M317.1 151.5a0.80 0.80 0 1 0 1.60 0a0.80 0.80 0 1 0 -1.60 0M319.3 152.2a0.80 0.80 0 1 0 1.60 0a0.80 0.80 0 1 0 -1.60 0M321.4 151.5a0.80 0.80 0 1 0 1.60 0a0.80 0.80 0 1 0 -1.60 0M323.6 150.2a0.80 0.80 0 1 0 1.60 0a0.80 0.80 0 1 0 -1.60 0M325.7 149.6a0.80 0.80 0 1 0 1.60 0a0.80 0.80 0 1 0 -1.60 0M327.9 149.2a0.80 0.80 0 1 0 1.60 0a0.80 0.80 0 1 0 -1.60 0M330.1 149.4a0.80 0.80 0 1 0 1.60 0a0.80 0.80 0 1 0 -1.60 0M332.2 148.1a0.80 0.80 0 1 0 1.60 0a0.80 0.80 0 1 0 -1.60 0M334.4 147.6a0.80 0.80 0 1 0 1.60 0a0.80 0.80 0 1 0 -1.60 0M336.5 147.3a0.80 0.80 0 1 0 1.60 0a0.80 0.80 0 1 0 -1.60 0M338.7 145.3a0.80 0.80 0 1 0 1.60 0a0.80 0.80 0 1 0 -1.60 0M340.9 147.1a0.80 0.80 0 1 0 1.60 0a0.80 0.80 0 1 0 -1.60 0M343.0 146.2a0.80 0.80 0 1 0 1.60 0a0.80 0.80 0 1 0 -1.60 0M345.2 145.1a0.80 0.80 0 1 0 1.60 0a0.80 0.80 0 1 0 -1.60 0M347.3 142.2a0.80 0.80 0 1 0 1.60 0a0.80 0.80 0 1 0 -1.60 0M349.5 142.4a0.80 0.80 0 1 0 1.60 0a0.80 0.80 0 1 0 -1.60 0M351.7 142.7a0.80 0.80 0 1 0 1.60 0a0.80 0.80 0 1 0 -1.60 0M353.8 139.4a0.80 0.80 0 1 0 1.60 0a0.80 0.80 0 1 0 -1.60 0M356.0 139.7a0.80 0.80 0 1 0 1.60 0a0.80 0.80 0 1 0 -1.60 0M358.1 139.7a0.80 0.80 0 1 0 1.60 0a0.80 0.80 0 1 0 -1.60 0M360.3 136.1a0.80 0.80 0 1 0 1.60 0a0.80 0.80 0 1 0 -1.60 0M362.5 137.3a0.80 0.80 0 1 0 1.60 0a0.80 0.80 0 1 0 -1.60 0M364.6 134.9a0.80 0.80 0 1 0 1.60 0a0.80 0.80 0 1 0 -1.60 0M366.8 132.8a0.80 0.80 0 1 0 1.60 0a0.80 0.80 0 1 0 -1.60 0M368.9 131.9a0.80 0.80 0 1 0 1.60 0a0.80 0.80 0 1 0 -1.60 0M371.1 130.8a0.80 0.80 0 1 0 1.60 0a0.80 0.80 0 1 0 -1.60 0M373.3 128.9a0.80 0.80 0 1 0 1.60 0a0.80 0.80 0 1 0 -1.60 0M375.4 128.5a0.80 0.80 0 1 0 1.60 0a0.80 0.80 0 1 0 -1.60 0M377.6 125.2a0.80 0.80 0 1 0 1.60 0a0.80 0.80 0 1 0 -1.60 0M379.7 124.1a0.80 0.80 0 1 0 1.60 0a0.80 0.80 0 1 0 -1.60 0M381.9 123.9a0.80 0.80 0 1 0 1.60 0a0.80 0.80 0 1 0 -1.60 0M384.1 121.3a0.80 0.80 0 1 0 1.60 0a0.80 0.80 0 1 0 -1.60 0M386.2 118.9a0.80 0.80 0 1 0 1.60 0a0.80 0.80 0 1 0 -1.60 0M388.4 119.7a0.80 0.80 0 1 0 1.60 0a0.80 0.80 0 1 0 -1.60 0M390.5 119.8a0.80 0.80 0 1 0 1.60 0a0.80 0.80 0 1 0 -1.60 0M392.7 118.5a0.80 0.80 0 1 0 1.60 0a0.80 0.80 0 1 0 -1.60 0M394.9 116.0a0.80 0.80 0 1 0 1.60 0a0.80 0.80 0 1 0 -1.60 0M397.0 113.9a0.80 0.80 0 1 0 1.60 0a0.80 0.80 0 1 0 -1.60 0M399.2 115.0a0.80 0.80 0 1 0 1.60 0a0.80 0.80 0 1 0 -1.60 0M401.3 116.8a0.80 0.80 0 1 0 1.60 0a0.80 0.80 0 1 0 -1.60 0M403.5 116.4a0.80 0.80 0 1 0 1.60 0a0.80 0.80 0 1 0 -1.60 0M405.7 107.9a0.80 0.80 0 1 0 1.60 0a0.80 0.80 0 1 0 -1.60 0M407.8 107.5a0.80 0.80 0 1 0 1.60 0a0.80 0.80 0 1 0 -1.60 0M410.0 102.4a0.80 0.80 0 1 0 1.60 0a0.80 0.80 0 1 0 -1.60 0M412.1 100.9a0.80 0.80 0 1 0 1.60 0a0.80 0.80 0 1 0 -1.60 0M414.3 100.8a0.80 0.80 0 1 0 1.60 0a0.80 0.80 0 1 0 -1.60 0M416.5 99.6a0.80 0.80 0 1 0 1.60 0a0.80 0.80 0 1 0 -1.60 0M418.6 96.6a0.80 0.80 0 1 0 1.60 0a0.80 0.80 0 1 0 -1.60 0M420.8 93.0a0.80 0.80 0 1 0 1.60 0a0.80 0.80 0 1 0 -1.60 0M423.1 88.9a0.80 0.80 0 1 0 1.60 0a0.80 0.80 0 1 0 -1.60 0"/>
<polyline fill="none" stroke="#fb7cc0" stroke-width="0.42" points="285.5,161.1 287.7,161.1 289.8,160.6 292.0,160.7 294.1,160.7 296.3,160.3 298.5,160.5 300.6,160.2 302.8,160.8 304.9,159.7 307.1,159.0 309.3,158.9 311.4,158.9 313.6,159.2 315.7,158.2 317.9,158.5 320.1,159.2 322.2,155.9 324.4,156.5 326.5,157.0 328.7,156.8 330.9,156.3 333.0,155.4 335.2,155.8 337.3,155.2 339.5,154.2 341.7,155.9 343.8,153.5 346.0,152.1 348.1,151.8 350.3,151.0 352.5,150.4 354.6,147.4 356.8,148.6 358.9,149.2 361.1,146.4 363.3,146.4 365.4,146.3 367.6,145.3 369.7,144.9 371.9,140.8 374.1,141.1 376.2,140.1 378.4,139.9 380.5,139.3 382.7,134.4 384.9,137.2 387.0,133.5 389.2,134.5 391.3,130.8 393.5,131.2 395.7,131.0 397.8,128.1 400.0,126.6 402.1,125.5 404.6,122.5 417.5,110.4"/>
<path fill="#fff" stroke="#fb7cc0" stroke-width="0.6" d="M284.7 161.1a0.80 0.80 0 1 0 1.60 0a0.80 0.80 0 1 0 -1.60 0M286.9 161.1a0.80 0.80 0 1 0 1.60 0a0.80 0.80 0 1 0 -1.60 0M289.0 160.6a0.80 0.80 0 1 0 1.60 0a0.80 0.80 0 1 0 -1.60 0M291.2 160.7a0.80 0.80 0 1 0 1.60 0a0.80 0.80 0 1 0 -1.60 0M293.3 160.7a0.80 0.80 0 1 0 1.60 0a0.80 0.80 0 1 0 -1.60 0M295.5 160.3a0.80 0.80 0 1 0 1.60 0a0.80 0.80 0 1 0 -1.60 0M297.7 160.5a0.80 0.80 0 1 0 1.60 0a0.80 0.80 0 1 0 -1.60 0M299.8 160.2a0.80 0.80 0 1 0 1.60 0a0.80 0.80 0 1 0 -1.60 0M302.0 160.8a0.80 0.80 0 1 0 1.60 0a0.80 0.80 0 1 0 -1.60 0M304.1 159.7a0.80 0.80 0 1 0 1.60 0a0.80 0.80 0 1 0 -1.60 0M306.3 159.0a0.80 0.80 0 1 0 1.60 0a0.80 0.80 0 1 0 -1.60 0M308.5 158.9a0.80 0.80 0 1 0 1.60 0a0.80 0.80 0 1 0 -1.60 0M310.6 158.9a0.80 0.80 0 1 0 1.60 0a0.80 0.80 0 1 0 -1.60 0M312.8 159.2a0.80 0.80 0 1 0 1.60 0a0.80 0.80 0 1 0 -1.60 0M314.9 158.2a0.80 0.80 0 1 0 1.60 0a0.80 0.80 0 1 0 -1.60 0M317.1 158.5a0.80 0.80 0 1 0 1.60 0a0.80 0.80 0 1 0 -1.60 0M319.3 159.2a0.80 0.80 0 1 0 1.60 0a0.80 0.80 0 1 0 -1.60 0M321.4 155.9a0.80 0.80 0 1 0 1.60 0a0.80 0.80 0 1 0 -1.60 0M323.6 156.5a0.80 0.80 0 1 0 1.60 0a0.80 0.80 0 1 0 -1.60 0M325.7 157.0a0.80 0.80 0 1 0 1.60 0a0.80 0.80 0 1 0 -1.60 0M327.9 156.8a0.80 0.80 0 1 0 1.60 0a0.80 0.80 0 1 0 -1.60 0M330.1 156.3a0.80 0.80 0 1 0 1.60 0a0.80 0.80 0 1 0 -1.60 0M332.2 155.4a0.80 0.80 0 1 0 1.60 0a0.80 0.80 0 1 0 -1.60 0M334.4 155.8a0.80 0.80 0 1 0 1.60 0a0.80 0.80 0 1 0 -1.60 0M336.5 155.2a0.80 0.80 0 1 0 1.60 0a0.80 0.80 0 1 0 -1.60 0M338.7 154.2a0.80 0.80 0 1 0 1.60 0a0.80 0.80 0 1 0 -1.60 0M340.9 155.9a0.80 0.80 0 1 0 1.60 0a0.80 0.80 0 1 0 -1.60 0M343.0 153.5a0.80 0.80 0 1 0 1.60 0a0.80 0.80 0 1 0 -1.60 0M345.2 152.1a0.80 0.80 0 1 0 1.60 0a0.80 0.80 0 1 0 -1.60 0M347.3 151.8a0.80 0.80 0 1 0 1.60 0a0.80 0.80 0 1 0 -1.60 0M349.5 151.0a0.80 0.80 0 1 0 1.60 0a0.80 0.80 0 1 0 -1.60 0M351.7 150.4a0.80 0.80 0 1 0 1.60 0a0.80 0.80 0 1 0 -1.60 0M353.8 147.4a0.80 0.80 0 1 0 1.60 0a0.80 0.80 0 1 0 -1.60 0M356.0 148.6a0.80 0.80 0 1 0 1.60 0a0.80 0.80 0 1 0 -1.60 0M358.1 149.2a0.80 0.80 0 1 0 1.60 0a0.80 0.80 0 1 0 -1.60 0M360.3 146.4a0.80 0.80 0 1 0 1.60 0a0.80 0.80 0 1 0 -1.60 0M362.5 146.4a0.80 0.80 0 1 0 1.60 0a0.80 0.80 0 1 0 -1.60 0M364.6 146.3a0.80 0.80 0 1 0 1.60 0a0.80 0.80 0 1 0 -1.60 0M366.8 145.3a0.80 0.80 0 1 0 1.60 0a0.80 0.80 0 1 0 -1.60 0M368.9 144.9a0.80 0.80 0 1 0 1.60 0a0.80 0.80 0 1 0 -1.60 0M371.1 140.8a0.80 0.80 0 1 0 1.60 0a0.80 0.80 0 1 0 -1.60 0M373.3 141.1a0.80 0.80 0 1 0 1.60 0a0.80 0.80 0 1 0 -1.60 0M375.4 140.1a0.80 0.80 0 1 0 1.60 0a0.80 0.80 0 1 0 -1.60 0M377.6 139.9a0.80 0.80 0 1 0 1.60 0a0.80 0.80 0 1 0 -1.60 0M379.7 139.3a0.80 0.80 0 1 0 1.60 0a0.80 0.80 0 1 0 -1.60 0M381.9 134.4a0.80 0.80 0 1 0 1.60 0a0.80 0.80 0 1 0 -1.60 0M384.1 137.2a0.80 0.80 0 1 0 1.60 0a0.80 0.80 0 1 0 -1.60 0M386.2 133.5a0.80 0.80 0 1 0 1.60 0a0.80 0.80 0 1 0 -1.60 0M388.4 134.5a0.80 0.80 0 1 0 1.60 0a0.80 0.80 0 1 0 -1.60 0M390.5 130.8a0.80 0.80 0 1 0 1.60 0a0.80 0.80 0 1 0 -1.60 0M392.7 131.2a0.80 0.80 0 1 0 1.60 0a0.80 0.80 0 1 0 -1.60 0M394.9 131.0a0.80 0.80 0 1 0 1.60 0a0.80 0.80 0 1 0 -1.60 0M397.0 128.1a0.80 0.80 0 1 0 1.60 0a0.80 0.80 0 1 0 -1.60 0M399.2 126.6a0.80 0.80 0 1 0 1.60 0a0.80 0.80 0 1 0 -1.60 0M401.3 125.5a0.80 0.80 0 1 0 1.60 0a0.80 0.80 0 1 0 -1.60 0M403.8 122.5a0.80 0.80 0 1 0 1.60 0a0.80 0.80 0 1 0 -1.60 0M416.7 110.4a0.80 0.80 0 1 0 1.60 0a0.80 0.80 0 1 0 -1.60 0"/>
<polyline fill="none" stroke="#fb7cc0" stroke-width="0.42" points="285.5,162.5 287.7,163.1 289.8,162.8 292.0,162.1 294.1,163.6 296.3,161.5 298.5,162.5 300.6,161.8 302.8,161.8 304.9,161.9 307.1,161.4 309.3,161.5 311.4,159.9 313.6,159.7 315.7,160.8 317.9,159.6 320.1,159.3 322.2,158.7 324.4,160.2 326.5,159.5 328.7,159.7 330.9,157.7 333.0,158.0 335.2,156.9 337.3,158.0 339.5,158.3 341.7,155.8 343.8,157.1 346.0,156.0 348.1,154.4 350.3,152.3 352.5,154.4 354.6,152.5 356.8,151.4 358.9,151.7 361.1,150.9 363.3,151.1 365.4,147.9 367.6,149.0 369.7,148.5 371.9,147.6 374.1,145.2 376.2,143.5 378.4,143.9 380.5,141.7 382.7,140.4 384.9,140.4 387.0,137.3 389.2,133.6 391.3,133.9 393.5,130.6 395.7,131.8 397.8,129.5 400.0,126.4 402.1,125.0 404.3,124.8 406.5,125.7 408.6,128.4 410.8,126.1 412.9,126.7 415.1,126.2 417.3,125.3 419.4,121.4 421.6,122.0 423.7,116.8 425.9,115.7 429.6,112.1"/>
<path fill="#fff" stroke="#fb7cc0" stroke-width="0.6" d="M284.7 162.5a0.80 0.80 0 1 0 1.60 0a0.80 0.80 0 1 0 -1.60 0M286.9 163.1a0.80 0.80 0 1 0 1.60 0a0.80 0.80 0 1 0 -1.60 0M289.0 162.8a0.80 0.80 0 1 0 1.60 0a0.80 0.80 0 1 0 -1.60 0M291.2 162.1a0.80 0.80 0 1 0 1.60 0a0.80 0.80 0 1 0 -1.60 0M293.3 163.6a0.80 0.80 0 1 0 1.60 0a0.80 0.80 0 1 0 -1.60 0M295.5 161.5a0.80 0.80 0 1 0 1.60 0a0.80 0.80 0 1 0 -1.60 0M297.7 162.5a0.80 0.80 0 1 0 1.60 0a0.80 0.80 0 1 0 -1.60 0M299.8 161.8a0.80 0.80 0 1 0 1.60 0a0.80 0.80 0 1 0 -1.60 0M302.0 161.8a0.80 0.80 0 1 0 1.60 0a0.80 0.80 0 1 0 -1.60 0M304.1 161.9a0.80 0.80 0 1 0 1.60 0a0.80 0.80 0 1 0 -1.60 0M306.3 161.4a0.80 0.80 0 1 0 1.60 0a0.80 0.80 0 1 0 -1.60 0M308.5 161.5a0.80 0.80 0 1 0 1.60 0a0.80 0.80 0 1 0 -1.60 0M310.6 159.9a0.80 0.80 0 1 0 1.60 0a0.80 0.80 0 1 0 -1.60 0M312.8 159.7a0.80 0.80 0 1 0 1.60 0a0.80 0.80 0 1 0 -1.60 0M314.9 160.8a0.80 0.80 0 1 0 1.60 0a0.80 0.80 0 1 0 -1.60 0M317.1 159.6a0.80 0.80 0 1 0 1.60 0a0.80 0.80 0 1 0 -1.60 0M319.3 159.3a0.80 0.80 0 1 0 1.60 0a0.80 0.80 0 1 0 -1.60 0M321.4 158.7a0.80 0.80 0 1 0 1.60 0a0.80 0.80 0 1 0 -1.60 0M323.6 160.2a0.80 0.80 0 1 0 1.60 0a0.80 0.80 0 1 0 -1.60 0M325.7 159.5a0.80 0.80 0 1 0 1.60 0a0.80 0.80 0 1 0 -1.60 0M327.9 159.7a0.80 0.80 0 1 0 1.60 0a0.80 0.80 0 1 0 -1.60 0M330.1 157.7a0.80 0.80 0 1 0 1.60 0a0.80 0.80 0 1 0 -1.60 0M332.2 158.0a0.80 0.80 0 1 0 1.60 0a0.80 0.80 0 1 0 -1.60 0M334.4 156.9a0.80 0.80 0 1 0 1.60 0a0.80 0.80 0 1 0 -1.60 0M336.5 158.0a0.80 0.80 0 1 0 1.60 0a0.80 0.80 0 1 0 -1.60 0M338.7 158.3a0.80 0.80 0 1 0 1.60 0a0.80 0.80 0 1 0 -1.60 0M340.9 155.8a0.80 0.80 0 1 0 1.60 0a0.80 0.80 0 1 0 -1.60 0M343.0 157.1a0.80 0.80 0 1 0 1.60 0a0.80 0.80 0 1 0 -1.60 0M345.2 156.0a0.80 0.80 0 1 0 1.60 0a0.80 0.80 0 1 0 -1.60 0M347.3 154.4a0.80 0.80 0 1 0 1.60 0a0.80 0.80 0 1 0 -1.60 0M349.5 152.3a0.80 0.80 0 1 0 1.60 0a0.80 0.80 0 1 0 -1.60 0M351.7 154.4a0.80 0.80 0 1 0 1.60 0a0.80 0.80 0 1 0 -1.60 0M353.8 152.5a0.80 0.80 0 1 0 1.60 0a0.80 0.80 0 1 0 -1.60 0M356.0 151.4a0.80 0.80 0 1 0 1.60 0a0.80 0.80 0 1 0 -1.60 0M358.1 151.7a0.80 0.80 0 1 0 1.60 0a0.80 0.80 0 1 0 -1.60 0M360.3 150.9a0.80 0.80 0 1 0 1.60 0a0.80 0.80 0 1 0 -1.60 0M362.5 151.1a0.80 0.80 0 1 0 1.60 0a0.80 0.80 0 1 0 -1.60 0M364.6 147.9a0.80 0.80 0 1 0 1.60 0a0.80 0.80 0 1 0 -1.60 0M366.8 149.0a0.80 0.80 0 1 0 1.60 0a0.80 0.80 0 1 0 -1.60 0M368.9 148.5a0.80 0.80 0 1 0 1.60 0a0.80 0.80 0 1 0 -1.60 0M371.1 147.6a0.80 0.80 0 1 0 1.60 0a0.80 0.80 0 1 0 -1.60 0M373.3 145.2a0.80 0.80 0 1 0 1.60 0a0.80 0.80 0 1 0 -1.60 0M375.4 143.5a0.80 0.80 0 1 0 1.60 0a0.80 0.80 0 1 0 -1.60 0M377.6 143.9a0.80 0.80 0 1 0 1.60 0a0.80 0.80 0 1 0 -1.60 0M379.7 141.7a0.80 0.80 0 1 0 1.60 0a0.80 0.80 0 1 0 -1.60 0M381.9 140.4a0.80 0.80 0 1 0 1.60 0a0.80 0.80 0 1 0 -1.60 0M384.1 140.4a0.80 0.80 0 1 0 1.60 0a0.80 0.80 0 1 0 -1.60 0M386.2 137.3a0.80 0.80 0 1 0 1.60 0a0.80 0.80 0 1 0 -1.60 0M388.4 133.6a0.80 0.80 0 1 0 1.60 0a0.80 0.80 0 1 0 -1.60 0M390.5 133.9a0.80 0.80 0 1 0 1.60 0a0.80 0.80 0 1 0 -1.60 0M392.7 130.6a0.80 0.80 0 1 0 1.60 0a0.80 0.80 0 1 0 -1.60 0M394.9 131.8a0.80 0.80 0 1 0 1.60 0a0.80 0.80 0 1 0 -1.60 0M397.0 129.5a0.80 0.80 0 1 0 1.60 0a0.80 0.80 0 1 0 -1.60 0M399.2 126.4a0.80 0.80 0 1 0 1.60 0a0.80 0.80 0 1 0 -1.60 0M401.3 125.0a0.80 0.80 0 1 0 1.60 0a0.80 0.80 0 1 0 -1.60 0M403.5 124.8a0.80 0.80 0 1 0 1.60 0a0.80 0.80 0 1 0 -1.60 0M405.7 125.7a0.80 0.80 0 1 0 1.60 0a0.80 0.80 0 1 0 -1.60 0M407.8 128.4a0.80 0.80 0 1 0 1.60 0a0.80 0.80 0 1 0 -1.60 0M410.0 126.1a0.80 0.80 0 1 0 1.60 0a0.80 0.80 0 1 0 -1.60 0M412.1 126.7a0.80 0.80 0 1 0 1.60 0a0.80 0.80 0 1 0 -1.60 0M414.3 126.2a0.80 0.80 0 1 0 1.60 0a0.80 0.80 0 1 0 -1.60 0M416.5 125.3a0.80 0.80 0 1 0 1.60 0a0.80 0.80 0 1 0 -1.60 0M418.6 121.4a0.80 0.80 0 1 0 1.60 0a0.80 0.80 0 1 0 -1.60 0M420.8 122.0a0.80 0.80 0 1 0 1.60 0a0.80 0.80 0 1 0 -1.60 0M422.9 116.8a0.80 0.80 0 1 0 1.60 0a0.80 0.80 0 1 0 -1.60 0M425.1 115.7a0.80 0.80 0 1 0 1.60 0a0.80 0.80 0 1 0 -1.60 0M428.8 112.1a0.80 0.80 0 1 0 1.60 0a0.80 0.80 0 1 0 -1.60 0"/>
<polyline fill="none" stroke="#fb7cc0" stroke-width="0.42" points="285.5,157.5 287.7,156.1 289.8,156.4 292.0,156.0 294.1,155.8 296.3,155.2 298.5,155.3 300.6,155.9 302.8,154.9 304.9,155.1 307.1,155.2 309.3,154.4 311.4,153.7 313.6,154.0 315.7,154.9 317.9,153.1 320.1,153.6 322.2,154.2 324.4,153.7 326.5,152.7 328.7,152.8 330.9,151.9 333.0,150.5 335.2,149.8 337.3,150.1 339.5,150.8 341.7,149.1 343.8,148.1 346.0,147.6 348.1,146.3 350.3,146.8 352.5,145.3 354.6,145.9 356.8,142.9 358.9,144.6 361.1,142.9 363.3,140.7 365.4,142.1 367.6,140.2 369.7,137.3 371.9,137.6 374.1,137.7 376.2,135.5 378.4,135.0 380.5,133.2 382.7,131.3 384.9,129.2 387.0,128.4 389.2,125.7 391.3,124.1 393.5,121.5 395.7,124.8 397.8,125.4 400.0,123.7 402.1,122.1 404.3,123.4 406.5,117.8 410.0,117.5"/>
<path fill="#fff" stroke="#fb7cc0" stroke-width="0.6" d="M284.7 157.5a0.80 0.80 0 1 0 1.60 0a0.80 0.80 0 1 0 -1.60 0M286.9 156.1a0.80 0.80 0 1 0 1.60 0a0.80 0.80 0 1 0 -1.60 0M289.0 156.4a0.80 0.80 0 1 0 1.60 0a0.80 0.80 0 1 0 -1.60 0M291.2 156.0a0.80 0.80 0 1 0 1.60 0a0.80 0.80 0 1 0 -1.60 0M293.3 155.8a0.80 0.80 0 1 0 1.60 0a0.80 0.80 0 1 0 -1.60 0M295.5 155.2a0.80 0.80 0 1 0 1.60 0a0.80 0.80 0 1 0 -1.60 0M297.7 155.3a0.80 0.80 0 1 0 1.60 0a0.80 0.80 0 1 0 -1.60 0M299.8 155.9a0.80 0.80 0 1 0 1.60 0a0.80 0.80 0 1 0 -1.60 0M302.0 154.9a0.80 0.80 0 1 0 1.60 0a0.80 0.80 0 1 0 -1.60 0M304.1 155.1a0.80 0.80 0 1 0 1.60 0a0.80 0.80 0 1 0 -1.60 0M306.3 155.2a0.80 0.80 0 1 0 1.60 0a0.80 0.80 0 1 0 -1.60 0M308.5 154.4a0.80 0.80 0 1 0 1.60 0a0.80 0.80 0 1 0 -1.60 0M310.6 153.7a0.80 0.80 0 1 0 1.60 0a0.80 0.80 0 1 0 -1.60 0M312.8 154.0a0.80 0.80 0 1 0 1.60 0a0.80 0.80 0 1 0 -1.60 0M314.9 154.9a0.80 0.80 0 1 0 1.60 0a0.80 0.80 0 1 0 -1.60 0M317.1 153.1a0.80 0.80 0 1 0 1.60 0a0.80 0.80 0 1 0 -1.60 0M319.3 153.6a0.80 0.80 0 1 0 1.60 0a0.80 0.80 0 1 0 -1.60 0M321.4 154.2a0.80 0.80 0 1 0 1.60 0a0.80 0.80 0 1 0 -1.60 0M323.6 153.7a0.80 0.80 0 1 0 1.60 0a0.80 0.80 0 1 0 -1.60 0M325.7 152.7a0.80 0.80 0 1 0 1.60 0a0.80 0.80 0 1 0 -1.60 0M327.9 152.8a0.80 0.80 0 1 0 1.60 0a0.80 0.80 0 1 0 -1.60 0M330.1 151.9a0.80 0.80 0 1 0 1.60 0a0.80 0.80 0 1 0 -1.60 0M332.2 150.5a0.80 0.80 0 1 0 1.60 0a0.80 0.80 0 1 0 -1.60 0M334.4 149.8a0.80 0.80 0 1 0 1.60 0a0.80 0.80 0 1 0 -1.60 0M336.5 150.1a0.80 0.80 0 1 0 1.60 0a0.80 0.80 0 1 0 -1.60 0M338.7 150.8a0.80 0.80 0 1 0 1.60 0a0.80 0.80 0 1 0 -1.60 0M340.9 149.1a0.80 0.80 0 1 0 1.60 0a0.80 0.80 0 1 0 -1.60 0M343.0 148.1a0.80 0.80 0 1 0 1.60 0a0.80 0.80 0 1 0 -1.60 0M345.2 147.6a0.80 0.80 0 1 0 1.60 0a0.80 0.80 0 1 0 -1.60 0M347.3 146.3a0.80 0.80 0 1 0 1.60 0a0.80 0.80 0 1 0 -1.60 0M349.5 146.8a0.80 0.80 0 1 0 1.60 0a0.80 0.80 0 1 0 -1.60 0M351.7 145.3a0.80 0.80 0 1 0 1.60 0a0.80 0.80 0 1 0 -1.60 0M353.8 145.9a0.80 0.80 0 1 0 1.60 0a0.80 0.80 0 1 0 -1.60 0M356.0 142.9a0.80 0.80 0 1 0 1.60 0a0.80 0.80 0 1 0 -1.60 0M358.1 144.6a0.80 0.80 0 1 0 1.60 0a0.80 0.80 0 1 0 -1.60 0M360.3 142.9a0.80 0.80 0 1 0 1.60 0a0.80 0.80 0 1 0 -1.60 0M362.5 140.7a0.80 0.80 0 1 0 1.60 0a0.80 0.80 0 1 0 -1.60 0M364.6 142.1a0.80 0.80 0 1 0 1.60 0a0.80 0.80 0 1 0 -1.60 0M366.8 140.2a0.80 0.80 0 1 0 1.60 0a0.80 0.80 0 1 0 -1.60 0M368.9 137.3a0.80 0.80 0 1 0 1.60 0a0.80 0.80 0 1 0 -1.60 0M371.1 137.6a0.80 0.80 0 1 0 1.60 0a0.80 0.80 0 1 0 -1.60 0M373.3 137.7a0.80 0.80 0 1 0 1.60 0a0.80 0.80 0 1 0 -1.60 0M375.4 135.5a0.80 0.80 0 1 0 1.60 0a0.80 0.80 0 1 0 -1.60 0M377.6 135.0a0.80 0.80 0 1 0 1.60 0a0.80 0.80 0 1 0 -1.60 0M379.7 133.2a0.80 0.80 0 1 0 1.60 0a0.80 0.80 0 1 0 -1.60 0M381.9 131.3a0.80 0.80 0 1 0 1.60 0a0.80 0.80 0 1 0 -1.60 0M384.1 129.2a0.80 0.80 0 1 0 1.60 0a0.80 0.80 0 1 0 -1.60 0M386.2 128.4a0.80 0.80 0 1 0 1.60 0a0.80 0.80 0 1 0 -1.60 0M388.4 125.7a0.80 0.80 0 1 0 1.60 0a0.80 0.80 0 1 0 -1.60 0M390.5 124.1a0.80 0.80 0 1 0 1.60 0a0.80 0.80 0 1 0 -1.60 0M392.7 121.5a0.80 0.80 0 1 0 1.60 0a0.80 0.80 0 1 0 -1.60 0M394.9 124.8a0.80 0.80 0 1 0 1.60 0a0.80 0.80 0 1 0 -1.60 0M397.0 125.4a0.80 0.80 0 1 0 1.60 0a0.80 0.80 0 1 0 -1.60 0M399.2 123.7a0.80 0.80 0 1 0 1.60 0a0.80 0.80 0 1 0 -1.60 0M401.3 122.1a0.80 0.80 0 1 0 1.60 0a0.80 0.80 0 1 0 -1.60 0M403.5 123.4a0.80 0.80 0 1 0 1.60 0a0.80 0.80 0 1 0 -1.60 0M405.7 117.8a0.80 0.80 0 1 0 1.60 0a0.80 0.80 0 1 0 -1.60 0M409.2 117.5a0.80 0.80 0 1 0 1.60 0a0.80 0.80 0 1 0 -1.60 0"/>
<polyline fill="none" stroke="#fb7cc0" stroke-width="0.42" points="285.5,164.1 287.7,162.6 289.8,163.5 292.0,164.1 294.1,163.2 296.3,163.7 298.5,163.9 300.6,163.0 302.8,163.2 304.9,163.3 307.1,163.4 309.3,162.8 311.4,162.5 313.6,161.9 315.7,162.1 317.9,162.7 320.1,162.1 322.2,161.2 324.4,160.9 326.5,163.0 328.7,161.7 330.9,161.1 333.0,158.5 335.2,160.6 337.3,160.2 339.5,160.9 341.7,159.4 343.8,158.4 346.0,158.3 348.1,155.7 350.3,157.5 352.5,156.3 354.6,154.9 356.8,156.0 358.9,155.9 361.1,152.4 363.3,152.3 365.4,152.4 367.6,151.5 369.7,150.2 371.9,148.9 374.1,151.1 376.2,149.3 378.4,146.4 380.5,145.4 382.7,147.5 384.9,145.8 387.0,145.6 389.2,143.6 391.3,140.8 393.5,141.0 395.7,137.2 397.8,137.5 400.0,136.9 402.1,136.3 404.3,133.6 406.5,133.0 408.6,132.4 410.8,131.0 412.9,130.0 415.1,128.2 417.3,126.0 419.4,125.8 422.0,123.0"/>
<path fill="#fff" stroke="#fb7cc0" stroke-width="0.6" d="M284.7 164.1a0.80 0.80 0 1 0 1.60 0a0.80 0.80 0 1 0 -1.60 0M286.9 162.6a0.80 0.80 0 1 0 1.60 0a0.80 0.80 0 1 0 -1.60 0M289.0 163.5a0.80 0.80 0 1 0 1.60 0a0.80 0.80 0 1 0 -1.60 0M291.2 164.1a0.80 0.80 0 1 0 1.60 0a0.80 0.80 0 1 0 -1.60 0M293.3 163.2a0.80 0.80 0 1 0 1.60 0a0.80 0.80 0 1 0 -1.60 0M295.5 163.7a0.80 0.80 0 1 0 1.60 0a0.80 0.80 0 1 0 -1.60 0M297.7 163.9a0.80 0.80 0 1 0 1.60 0a0.80 0.80 0 1 0 -1.60 0M299.8 163.0a0.80 0.80 0 1 0 1.60 0a0.80 0.80 0 1 0 -1.60 0M302.0 163.2a0.80 0.80 0 1 0 1.60 0a0.80 0.80 0 1 0 -1.60 0M304.1 163.3a0.80 0.80 0 1 0 1.60 0a0.80 0.80 0 1 0 -1.60 0M306.3 163.4a0.80 0.80 0 1 0 1.60 0a0.80 0.80 0 1 0 -1.60 0M308.5 162.8a0.80 0.80 0 1 0 1.60 0a0.80 0.80 0 1 0 -1.60 0M310.6 162.5a0.80 0.80 0 1 0 1.60 0a0.80 0.80 0 1 0 -1.60 0M312.8 161.9a0.80 0.80 0 1 0 1.60 0a0.80 0.80 0 1 0 -1.60 0M314.9 162.1a0.80 0.80 0 1 0 1.60 0a0.80 0.80 0 1 0 -1.60 0M317.1 162.7a0.80 0.80 0 1 0 1.60 0a0.80 0.80 0 1 0 -1.60 0M319.3 162.1a0.80 0.80 0 1 0 1.60 0a0.80 0.80 0 1 0 -1.60 0M321.4 161.2a0.80 0.80 0 1 0 1.60 0a0.80 0.80 0 1 0 -1.60 0M323.6 160.9a0.80 0.80 0 1 0 1.60 0a0.80 0.80 0 1 0 -1.60 0M325.7 163.0a0.80 0.80 0 1 0 1.60 0a0.80 0.80 0 1 0 -1.60 0M327.9 161.7a0.80 0.80 0 1 0 1.60 0a0.80 0.80 0 1 0 -1.60 0M330.1 161.1a0.80 0.80 0 1 0 1.60 0a0.80 0.80 0 1 0 -1.60 0M332.2 158.5a0.80 0.80 0 1 0 1.60 0a0.80 0.80 0 1 0 -1.60 0M334.4 160.6a0.80 0.80 0 1 0 1.60 0a0.80 0.80 0 1 0 -1.60 0M336.5 160.2a0.80 0.80 0 1 0 1.60 0a0.80 0.80 0 1 0 -1.60 0M338.7 160.9a0.80 0.80 0 1 0 1.60 0a0.80 0.80 0 1 0 -1.60 0M340.9 159.4a0.80 0.80 0 1 0 1.60 0a0.80 0.80 0 1 0 -1.60 0M343.0 158.4a0.80 0.80 0 1 0 1.60 0a0.80 0.80 0 1 0 -1.60 0M345.2 158.3a0.80 0.80 0 1 0 1.60 0a0.80 0.80 0 1 0 -1.60 0M347.3 155.7a0.80 0.80 0 1 0 1.60 0a0.80 0.80 0 1 0 -1.60 0M349.5 157.5a0.80 0.80 0 1 0 1.60 0a0.80 0.80 0 1 0 -1.60 0M351.7 156.3a0.80 0.80 0 1 0 1.60 0a0.80 0.80 0 1 0 -1.60 0M353.8 154.9a0.80 0.80 0 1 0 1.60 0a0.80 0.80 0 1 0 -1.60 0M356.0 156.0a0.80 0.80 0 1 0 1.60 0a0.80 0.80 0 1 0 -1.60 0M358.1 155.9a0.80 0.80 0 1 0 1.60 0a0.80 0.80 0 1 0 -1.60 0M360.3 152.4a0.80 0.80 0 1 0 1.60 0a0.80 0.80 0 1 0 -1.60 0M362.5 152.3a0.80 0.80 0 1 0 1.60 0a0.80 0.80 0 1 0 -1.60 0M364.6 152.4a0.80 0.80 0 1 0 1.60 0a0.80 0.80 0 1 0 -1.60 0M366.8 151.5a0.80 0.80 0 1 0 1.60 0a0.80 0.80 0 1 0 -1.60 0M368.9 150.2a0.80 0.80 0 1 0 1.60 0a0.80 0.80 0 1 0 -1.60 0M371.1 148.9a0.80 0.80 0 1 0 1.60 0a0.80 0.80 0 1 0 -1.60 0M373.3 151.1a0.80 0.80 0 1 0 1.60 0a0.80 0.80 0 1 0 -1.60 0M375.4 149.3a0.80 0.80 0 1 0 1.60 0a0.80 0.80 0 1 0 -1.60 0M377.6 146.4a0.80 0.80 0 1 0 1.60 0a0.80 0.80 0 1 0 -1.60 0M379.7 145.4a0.80 0.80 0 1 0 1.60 0a0.80 0.80 0 1 0 -1.60 0M381.9 147.5a0.80 0.80 0 1 0 1.60 0a0.80 0.80 0 1 0 -1.60 0M384.1 145.8a0.80 0.80 0 1 0 1.60 0a0.80 0.80 0 1 0 -1.60 0M386.2 145.6a0.80 0.80 0 1 0 1.60 0a0.80 0.80 0 1 0 -1.60 0M388.4 143.6a0.80 0.80 0 1 0 1.60 0a0.80 0.80 0 1 0 -1.60 0M390.5 140.8a0.80 0.80 0 1 0 1.60 0a0.80 0.80 0 1 0 -1.60 0M392.7 141.0a0.80 0.80 0 1 0 1.60 0a0.80 0.80 0 1 0 -1.60 0M394.9 137.2a0.80 0.80 0 1 0 1.60 0a0.80 0.80 0 1 0 -1.60 0M397.0 137.5a0.80 0.80 0 1 0 1.60 0a0.80 0.80 0 1 0 -1.60 0M399.2 136.9a0.80 0.80 0 1 0 1.60 0a0.80 0.80 0 1 0 -1.60 0M401.3 136.3a0.80 0.80 0 1 0 1.60 0a0.80 0.80 0 1 0 -1.60 0M403.5 133.6a0.80 0.80 0 1 0 1.60 0a0.80 0.80 0 1 0 -1.60 0M405.7 133.0a0.80 0.80 0 1 0 1.60 0a0.80 0.80 0 1 0 -1.60 0M407.8 132.4a0.80 0.80 0 1 0 1.60 0a0.80 0.80 0 1 0 -1.60 0M410.0 131.0a0.80 0.80 0 1 0 1.60 0a0.80 0.80 0 1 0 -1.60 0M412.1 130.0a0.80 0.80 0 1 0 1.60 0a0.80 0.80 0 1 0 -1.60 0M414.3 128.2a0.80 0.80 0 1 0 1.60 0a0.80 0.80 0 1 0 -1.60 0M416.5 126.0a0.80 0.80 0 1 0 1.60 0a0.80 0.80 0 1 0 -1.60 0M418.6 125.8a0.80 0.80 0 1 0 1.60 0a0.80 0.80 0 1 0 -1.60 0M421.2 123.0a0.80 0.80 0 1 0 1.60 0a0.80 0.80 0 1 0 -1.60 0"/>
<polyline fill="none" stroke="#fb7cc0" stroke-width="0.42" points="285.5,163.1 287.7,163.3 289.8,163.6 292.0,163.7 294.1,163.9 296.3,163.9 298.5,164.0 300.6,163.9 302.8,163.3 304.9,164.3 307.1,164.7 309.3,164.4 311.4,164.1 313.6,164.5 315.7,163.6 317.9,163.1 320.1,164.3 322.2,163.6 324.4,164.7 326.5,163.4 328.7,162.2 330.9,163.3 333.0,165.1 335.2,163.6 337.3,162.8 339.5,163.2 341.7,164.1 343.8,163.9 346.0,163.4 348.1,164.3 350.3,163.5 352.5,162.6 354.6,162.5 356.8,162.8 358.9,161.6 361.1,161.1 363.3,158.5 365.4,158.7 367.6,159.0 369.7,157.4 371.9,158.1 374.1,157.1 376.2,156.8 378.4,155.2 380.5,158.0 382.7,156.8 384.9,155.3 387.0,155.7 389.2,158.4 391.3,154.6 393.5,154.7 395.7,153.5 397.8,151.2 400.0,148.7 402.1,147.4 404.3,144.8 406.5,146.2 408.6,146.8 410.8,146.9 412.9,146.7 417.0,140.0"/>
<path fill="#fff" stroke="#fb7cc0" stroke-width="0.6" d="M284.7 163.1a0.80 0.80 0 1 0 1.60 0a0.80 0.80 0 1 0 -1.60 0M286.9 163.3a0.80 0.80 0 1 0 1.60 0a0.80 0.80 0 1 0 -1.60 0M289.0 163.6a0.80 0.80 0 1 0 1.60 0a0.80 0.80 0 1 0 -1.60 0M291.2 163.7a0.80 0.80 0 1 0 1.60 0a0.80 0.80 0 1 0 -1.60 0M293.3 163.9a0.80 0.80 0 1 0 1.60 0a0.80 0.80 0 1 0 -1.60 0M295.5 163.9a0.80 0.80 0 1 0 1.60 0a0.80 0.80 0 1 0 -1.60 0M297.7 164.0a0.80 0.80 0 1 0 1.60 0a0.80 0.80 0 1 0 -1.60 0M299.8 163.9a0.80 0.80 0 1 0 1.60 0a0.80 0.80 0 1 0 -1.60 0M302.0 163.3a0.80 0.80 0 1 0 1.60 0a0.80 0.80 0 1 0 -1.60 0M304.1 164.3a0.80 0.80 0 1 0 1.60 0a0.80 0.80 0 1 0 -1.60 0M306.3 164.7a0.80 0.80 0 1 0 1.60 0a0.80 0.80 0 1 0 -1.60 0M308.5 164.4a0.80 0.80 0 1 0 1.60 0a0.80 0.80 0 1 0 -1.60 0M310.6 164.1a0.80 0.80 0 1 0 1.60 0a0.80 0.80 0 1 0 -1.60 0M312.8 164.5a0.80 0.80 0 1 0 1.60 0a0.80 0.80 0 1 0 -1.60 0M314.9 163.6a0.80 0.80 0 1 0 1.60 0a0.80 0.80 0 1 0 -1.60 0M317.1 163.1a0.80 0.80 0 1 0 1.60 0a0.80 0.80 0 1 0 -1.60 0M319.3 164.3a0.80 0.80 0 1 0 1.60 0a0.80 0.80 0 1 0 -1.60 0M321.4 163.6a0.80 0.80 0 1 0 1.60 0a0.80 0.80 0 1 0 -1.60 0M323.6 164.7a0.80 0.80 0 1 0 1.60 0a0.80 0.80 0 1 0 -1.60 0M325.7 163.4a0.80 0.80 0 1 0 1.60 0a0.80 0.80 0 1 0 -1.60 0M327.9 162.2a0.80 0.80 0 1 0 1.60 0a0.80 0.80 0 1 0 -1.60 0M330.1 163.3a0.80 0.80 0 1 0 1.60 0a0.80 0.80 0 1 0 -1.60 0M332.2 165.1a0.80 0.80 0 1 0 1.60 0a0.80 0.80 0 1 0 -1.60 0M334.4 163.6a0.80 0.80 0 1 0 1.60 0a0.80 0.80 0 1 0 -1.60 0M336.5 162.8a0.80 0.80 0 1 0 1.60 0a0.80 0.80 0 1 0 -1.60 0M338.7 163.2a0.80 0.80 0 1 0 1.60 0a0.80 0.80 0 1 0 -1.60 0M340.9 164.1a0.80 0.80 0 1 0 1.60 0a0.80 0.80 0 1 0 -1.60 0M343.0 163.9a0.80 0.80 0 1 0 1.60 0a0.80 0.80 0 1 0 -1.60 0M345.2 163.4a0.80 0.80 0 1 0 1.60 0a0.80 0.80 0 1 0 -1.60 0M347.3 164.3a0.80 0.80 0 1 0 1.60 0a0.80 0.80 0 1 0 -1.60 0M349.5 163.5a0.80 0.80 0 1 0 1.60 0a0.80 0.80 0 1 0 -1.60 0M351.7 162.6a0.80 0.80 0 1 0 1.60 0a0.80 0.80 0 1 0 -1.60 0M353.8 162.5a0.80 0.80 0 1 0 1.60 0a0.80 0.80 0 1 0 -1.60 0M356.0 162.8a0.80 0.80 0 1 0 1.60 0a0.80 0.80 0 1 0 -1.60 0M358.1 161.6a0.80 0.80 0 1 0 1.60 0a0.80 0.80 0 1 0 -1.60 0M360.3 161.1a0.80 0.80 0 1 0 1.60 0a0.80 0.80 0 1 0 -1.60 0M362.5 158.5a0.80 0.80 0 1 0 1.60 0a0.80 0.80 0 1 0 -1.60 0M364.6 158.7a0.80 0.80 0 1 0 1.60 0a0.80 0.80 0 1 0 -1.60 0M366.8 159.0a0.80 0.80 0 1 0 1.60 0a0.80 0.80 0 1 0 -1.60 0M368.9 157.4a0.80 0.80 0 1 0 1.60 0a0.80 0.80 0 1 0 -1.60 0M371.1 158.1a0.80 0.80 0 1 0 1.60 0a0.80 0.80 0 1 0 -1.60 0M373.3 157.1a0.80 0.80 0 1 0 1.60 0a0.80 0.80 0 1 0 -1.60 0M375.4 156.8a0.80 0.80 0 1 0 1.60 0a0.80 0.80 0 1 0 -1.60 0M377.6 155.2a0.80 0.80 0 1 0 1.60 0a0.80 0.80 0 1 0 -1.60 0M379.7 158.0a0.80 0.80 0 1 0 1.60 0a0.80 0.80 0 1 0 -1.60 0M381.9 156.8a0.80 0.80 0 1 0 1.60 0a0.80 0.80 0 1 0 -1.60 0M384.1 155.3a0.80 0.80 0 1 0 1.60 0a0.80 0.80 0 1 0 -1.60 0M386.2 155.7a0.80 0.80 0 1 0 1.60 0a0.80 0.80 0 1 0 -1.60 0M388.4 158.4a0.80 0.80 0 1 0 1.60 0a0.80 0.80 0 1 0 -1.60 0M390.5 154.6a0.80 0.80 0 1 0 1.60 0a0.80 0.80 0 1 0 -1.60 0M392.7 154.7a0.80 0.80 0 1 0 1.60 0a0.80 0.80 0 1 0 -1.60 0M394.9 153.5a0.80 0.80 0 1 0 1.60 0a0.80 0.80 0 1 0 -1.60 0M397.0 151.2a0.80 0.80 0 1 0 1.60 0a0.80 0.80 0 1 0 -1.60 0M399.2 148.7a0.80 0.80 0 1 0 1.60 0a0.80 0.80 0 1 0 -1.60 0M401.3 147.4a0.80 0.80 0 1 0 1.60 0a0.80 0.80 0 1 0 -1.60 0M403.5 144.8a0.80 0.80 0 1 0 1.60 0a0.80 0.80 0 1 0 -1.60 0M405.7 146.2a0.80 0.80 0 1 0 1.60 0a0.80 0.80 0 1 0 -1.60 0M407.8 146.8a0.80 0.80 0 1 0 1.60 0a0.80 0.80 0 1 0 -1.60 0M410.0 146.9a0.80 0.80 0 1 0 1.60 0a0.80 0.80 0 1 0 -1.60 0M412.1 146.7a0.80 0.80 0 1 0 1.60 0a0.80 0.80 0 1 0 -1.60 0M416.2 140.0a0.80 0.80 0 1 0 1.60 0a0.80 0.80 0 1 0 -1.60 0"/>
<polyline fill="none" stroke="#3a86f5" stroke-width="0.50" points="285.5,158.6 289.8,158.6 294.1,158.6 298.5,159.1 302.8,158.2 307.1,158.2 311.4,158.3 315.7,157.4 320.1,157.8 324.4,155.3 328.7,154.3 333.0,153.3 337.3,149.8 341.7,146.0 346.0,142.4 349.0,140.0 351.4,138.4 355.0,133.8 358.6,129.0 361.0,125.7 364.5,123.0 368.4,119.5 373.0,116.0 378.0,112.3 383.0,108.0 388.0,104.0 392.0,101.0 395.8,99.9 400.7,95.7 402.8,88.0 406.2,86.7 410.4,79.0"/>
<path fill="#3a86f5" stroke="#3a86f5" stroke-width="0.3" stroke-linejoin="miter" d="M285.5 157.0l1.55 2.71l-3.10 0zM289.8 157.0l1.55 2.71l-3.10 0zM294.1 156.9l1.55 2.71l-3.10 0zM298.5 157.5l1.55 2.71l-3.10 0zM302.8 156.5l1.55 2.71l-3.10 0zM307.1 156.6l1.55 2.71l-3.10 0zM311.4 156.7l1.55 2.71l-3.10 0zM315.7 155.8l1.55 2.71l-3.10 0zM320.1 156.1l1.55 2.71l-3.10 0zM324.4 153.7l1.55 2.71l-3.10 0zM328.7 152.7l1.55 2.71l-3.10 0zM333.0 151.6l1.55 2.71l-3.10 0zM337.3 148.2l1.55 2.71l-3.10 0zM341.7 144.4l1.55 2.71l-3.10 0zM346.0 140.8l1.55 2.71l-3.10 0zM349.0 138.4l1.55 2.71l-3.10 0zM351.4 136.8l1.55 2.71l-3.10 0zM355.0 132.1l1.55 2.71l-3.10 0zM358.6 127.4l1.55 2.71l-3.10 0zM361.0 124.1l1.55 2.71l-3.10 0zM364.5 121.4l1.55 2.71l-3.10 0zM368.4 117.9l1.55 2.71l-3.10 0zM373.0 114.4l1.55 2.71l-3.10 0zM378.0 110.7l1.55 2.71l-3.10 0zM383.0 106.4l1.55 2.71l-3.10 0zM388.0 102.4l1.55 2.71l-3.10 0zM392.0 99.4l1.55 2.71l-3.10 0zM395.8 98.3l1.55 2.71l-3.10 0zM400.7 94.1l1.55 2.71l-3.10 0zM402.8 86.4l1.55 2.71l-3.10 0zM406.2 85.1l1.55 2.71l-3.10 0zM410.4 77.4l1.55 2.71l-3.10 0z"/>
<polyline fill="none" stroke="#3a86f5" stroke-width="0.50" points="285.5,156.8 289.8,159.8 294.1,158.4 298.5,158.8 302.8,156.6 307.1,157.2 311.4,155.4 315.7,157.9 320.1,157.9 324.4,153.6 328.7,154.0 333.0,153.3 337.3,146.9 341.7,140.7 346.0,136.2 350.3,132.1 354.6,127.4 358.9,125.1 363.3,121.0 367.6,118.5 371.9,116.1 376.2,114.4 380.5,111.1 384.9,104.8 389.2,101.6 393.5,97.8 397.8,94.0"/>
<path fill="#3a86f5" stroke="#3a86f5" stroke-width="0.3" stroke-linejoin="miter" d="M285.5 155.2l1.55 2.71l-3.10 0zM289.8 158.2l1.55 2.71l-3.10 0zM294.1 156.7l1.55 2.71l-3.10 0zM298.5 157.1l1.55 2.71l-3.10 0zM302.8 155.0l1.55 2.71l-3.10 0zM307.1 155.6l1.55 2.71l-3.10 0zM311.4 153.8l1.55 2.71l-3.10 0zM315.7 156.3l1.55 2.71l-3.10 0zM320.1 156.3l1.55 2.71l-3.10 0zM324.4 152.0l1.55 2.71l-3.10 0zM328.7 152.4l1.55 2.71l-3.10 0zM333.0 151.7l1.55 2.71l-3.10 0zM337.3 145.3l1.55 2.71l-3.10 0zM341.7 139.0l1.55 2.71l-3.10 0zM346.0 134.5l1.55 2.71l-3.10 0zM350.3 130.4l1.55 2.71l-3.10 0zM354.6 125.8l1.55 2.71l-3.10 0zM358.9 123.5l1.55 2.71l-3.10 0zM363.3 119.4l1.55 2.71l-3.10 0zM367.6 116.9l1.55 2.71l-3.10 0zM371.9 114.5l1.55 2.71l-3.10 0zM376.2 112.7l1.55 2.71l-3.10 0zM380.5 109.5l1.55 2.71l-3.10 0zM384.9 103.2l1.55 2.71l-3.10 0zM389.2 100.0l1.55 2.71l-3.10 0zM393.5 96.2l1.55 2.71l-3.10 0zM397.8 92.4l1.55 2.71l-3.10 0z"/>
<polyline fill="none" stroke="#3a86f5" stroke-width="0.50" points="285.5,157.5 289.8,158.0 294.1,158.2 298.5,157.2 302.8,157.4 307.1,158.0 311.4,157.9 315.7,157.8 320.1,154.9 324.4,151.2 328.7,150.0 333.0,147.8 337.0,144.6 341.0,134.4 345.4,128.9 347.9,128.4 348.9,133.0 353.2,124.0 357.0,123.0 361.2,119.5 365.7,115.0 371.0,113.2 377.3,112.3 383.6,107.9 387.0,105.2 388.9,101.2 393.0,95.0 397.9,90.8 402.0,83.9 407.0,76.2"/>
<path fill="#3a86f5" stroke="#3a86f5" stroke-width="0.3" stroke-linejoin="miter" d="M285.5 155.8l1.55 2.71l-3.10 0zM289.8 156.4l1.55 2.71l-3.10 0zM294.1 156.6l1.55 2.71l-3.10 0zM298.5 155.6l1.55 2.71l-3.10 0zM302.8 155.8l1.55 2.71l-3.10 0zM307.1 156.4l1.55 2.71l-3.10 0zM311.4 156.3l1.55 2.71l-3.10 0zM315.7 156.2l1.55 2.71l-3.10 0zM320.1 153.3l1.55 2.71l-3.10 0zM324.4 149.5l1.55 2.71l-3.10 0zM328.7 148.4l1.55 2.71l-3.10 0zM333.0 146.1l1.55 2.71l-3.10 0zM337.0 143.0l1.55 2.71l-3.10 0zM341.0 132.8l1.55 2.71l-3.10 0zM345.4 127.3l1.55 2.71l-3.10 0zM347.9 126.8l1.55 2.71l-3.10 0zM348.9 131.4l1.55 2.71l-3.10 0zM353.2 122.4l1.55 2.71l-3.10 0zM357.0 121.4l1.55 2.71l-3.10 0zM361.2 117.9l1.55 2.71l-3.10 0zM365.7 113.4l1.55 2.71l-3.10 0zM371.0 111.6l1.55 2.71l-3.10 0zM377.3 110.7l1.55 2.71l-3.10 0zM383.6 106.3l1.55 2.71l-3.10 0zM387.0 103.6l1.55 2.71l-3.10 0zM388.9 99.6l1.55 2.71l-3.10 0zM393.0 93.4l1.55 2.71l-3.10 0zM397.9 89.2l1.55 2.71l-3.10 0zM402.0 82.3l1.55 2.71l-3.10 0zM407.0 74.6l1.55 2.71l-3.10 0z"/>
<polyline fill="none" stroke="#3a86f5" stroke-width="0.50" points="285.4,157.0 285.7,152.7 288.0,148.8 290.7,148.8 294.3,148.8 297.9,149.0 302.3,150.0 306.8,148.2 311.2,146.8 315.7,146.0 320.2,144.3 324.6,143.4 328.2,142.5 332.7,142.5 336.8,141.0 338.9,135.7 340.5,132.4 344.3,124.0 350.5,123.0 353.0,120.5 357.0,118.5 359.5,116.8 364.8,107.9 368.4,112.3 373.8,109.6 377.3,106.0 381.8,103.4 385.4,102.6 394.4,83.2 400.7,79.0 407.0,71.0 408.8,68.5 414.7,60.7 421.9,54.2"/>
<path fill="#3a86f5" stroke="#3a86f5" stroke-width="0.3" stroke-linejoin="miter" d="M285.4 155.4l1.55 2.71l-3.10 0zM285.7 151.1l1.55 2.71l-3.10 0zM288.0 147.1l1.55 2.71l-3.10 0zM290.7 147.1l1.55 2.71l-3.10 0zM294.3 147.1l1.55 2.71l-3.10 0zM297.9 147.4l1.55 2.71l-3.10 0zM302.3 148.4l1.55 2.71l-3.10 0zM306.8 146.6l1.55 2.71l-3.10 0zM311.2 145.2l1.55 2.71l-3.10 0zM315.7 144.4l1.55 2.71l-3.10 0zM320.2 142.7l1.55 2.71l-3.10 0zM324.6 141.8l1.55 2.71l-3.10 0zM328.2 140.9l1.55 2.71l-3.10 0zM332.7 140.9l1.55 2.71l-3.10 0zM336.8 139.4l1.55 2.71l-3.10 0zM338.9 134.1l1.55 2.71l-3.10 0zM340.5 130.8l1.55 2.71l-3.10 0zM344.3 122.4l1.55 2.71l-3.10 0zM350.5 121.4l1.55 2.71l-3.10 0zM353.0 118.9l1.55 2.71l-3.10 0zM357.0 116.9l1.55 2.71l-3.10 0zM359.5 115.2l1.55 2.71l-3.10 0zM364.8 106.3l1.55 2.71l-3.10 0zM368.4 110.7l1.55 2.71l-3.10 0zM373.8 108.0l1.55 2.71l-3.10 0zM377.3 104.4l1.55 2.71l-3.10 0zM381.8 101.8l1.55 2.71l-3.10 0zM385.4 101.0l1.55 2.71l-3.10 0zM394.4 81.6l1.55 2.71l-3.10 0zM400.7 77.4l1.55 2.71l-3.10 0zM407.0 69.4l1.55 2.71l-3.10 0zM408.8 66.9l1.55 2.71l-3.10 0zM414.7 59.1l1.55 2.71l-3.10 0zM421.9 52.6l1.55 2.71l-3.10 0z"/>
<polyline fill="none" stroke="#fb7cc0" stroke-width="0.42" points="285.5,159.0 287.7,158.5 289.8,158.6 292.0,157.2 294.1,157.9 296.3,158.3 298.5,157.3 300.6,158.0 302.8,157.8 304.9,156.7 307.1,157.1 309.3,156.9 311.4,157.1 313.6,157.0 315.7,156.4 317.9,155.7 320.1,155.9 322.2,155.6 324.4,155.7 326.5,155.1 328.7,154.0 330.9,153.1 333.0,153.4 335.2,152.8 337.3,152.1 339.5,152.5 341.7,151.7 343.8,151.7 346.0,151.6 348.1,150.3 350.3,152.1 352.5,149.4 354.6,150.2 356.8,148.8 358.9,149.2 361.1,145.5 363.3,146.2 365.4,146.3 367.6,145.9 369.7,146.8 371.9,144.1 374.1,144.3 376.2,143.1 378.4,142.5 380.5,141.3 382.7,139.6 384.9,139.3 387.0,136.6 389.2,138.0 391.3,134.6 393.5,135.0 395.7,136.0 397.8,132.5 400.0,131.7 402.1,132.0 404.3,129.7 408.0,128.0"/>
<path fill="#fff" stroke="#fb7cc0" stroke-width="0.6" d="M284.7 159.0a0.80 0.80 0 1 0 1.60 0a0.80 0.80 0 1 0 -1.60 0M286.9 158.5a0.80 0.80 0 1 0 1.60 0a0.80 0.80 0 1 0 -1.60 0M289.0 158.6a0.80 0.80 0 1 0 1.60 0a0.80 0.80 0 1 0 -1.60 0M291.2 157.2a0.80 0.80 0 1 0 1.60 0a0.80 0.80 0 1 0 -1.60 0M293.3 157.9a0.80 0.80 0 1 0 1.60 0a0.80 0.80 0 1 0 -1.60 0M295.5 158.3a0.80 0.80 0 1 0 1.60 0a0.80 0.80 0 1 0 -1.60 0M297.7 157.3a0.80 0.80 0 1 0 1.60 0a0.80 0.80 0 1 0 -1.60 0M299.8 158.0a0.80 0.80 0 1 0 1.60 0a0.80 0.80 0 1 0 -1.60 0M302.0 157.8a0.80 0.80 0 1 0 1.60 0a0.80 0.80 0 1 0 -1.60 0M304.1 156.7a0.80 0.80 0 1 0 1.60 0a0.80 0.80 0 1 0 -1.60 0M306.3 157.1a0.80 0.80 0 1 0 1.60 0a0.80 0.80 0 1 0 -1.60 0M308.5 156.9a0.80 0.80 0 1 0 1.60 0a0.80 0.80 0 1 0 -1.60 0M310.6 157.1a0.80 0.80 0 1 0 1.60 0a0.80 0.80 0 1 0 -1.60 0M312.8 157.0a0.80 0.80 0 1 0 1.60 0a0.80 0.80 0 1 0 -1.60 0M314.9 156.4a0.80 0.80 0 1 0 1.60 0a0.80 0.80 0 1 0 -1.60 0M317.1 155.7a0.80 0.80 0 1 0 1.60 0a0.80 0.80 0 1 0 -1.60 0M319.3 155.9a0.80 0.80 0 1 0 1.60 0a0.80 0.80 0 1 0 -1.60 0M321.4 155.6a0.80 0.80 0 1 0 1.60 0a0.80 0.80 0 1 0 -1.60 0M323.6 155.7a0.80 0.80 0 1 0 1.60 0a0.80 0.80 0 1 0 -1.60 0M325.7 155.1a0.80 0.80 0 1 0 1.60 0a0.80 0.80 0 1 0 -1.60 0M327.9 154.0a0.80 0.80 0 1 0 1.60 0a0.80 0.80 0 1 0 -1.60 0M330.1 153.1a0.80 0.80 0 1 0 1.60 0a0.80 0.80 0 1 0 -1.60 0M332.2 153.4a0.80 0.80 0 1 0 1.60 0a0.80 0.80 0 1 0 -1.60 0M334.4 152.8a0.80 0.80 0 1 0 1.60 0a0.80 0.80 0 1 0 -1.60 0M336.5 152.1a0.80 0.80 0 1 0 1.60 0a0.80 0.80 0 1 0 -1.60 0M338.7 152.5a0.80 0.80 0 1 0 1.60 0a0.80 0.80 0 1 0 -1.60 0M340.9 151.7a0.80 0.80 0 1 0 1.60 0a0.80 0.80 0 1 0 -1.60 0M343.0 151.7a0.80 0.80 0 1 0 1.60 0a0.80 0.80 0 1 0 -1.60 0M345.2 151.6a0.80 0.80 0 1 0 1.60 0a0.80 0.80 0 1 0 -1.60 0M347.3 150.3a0.80 0.80 0 1 0 1.60 0a0.80 0.80 0 1 0 -1.60 0M349.5 152.1a0.80 0.80 0 1 0 1.60 0a0.80 0.80 0 1 0 -1.60 0M351.7 149.4a0.80 0.80 0 1 0 1.60 0a0.80 0.80 0 1 0 -1.60 0M353.8 150.2a0.80 0.80 0 1 0 1.60 0a0.80 0.80 0 1 0 -1.60 0M356.0 148.8a0.80 0.80 0 1 0 1.60 0a0.80 0.80 0 1 0 -1.60 0M358.1 149.2a0.80 0.80 0 1 0 1.60 0a0.80 0.80 0 1 0 -1.60 0M360.3 145.5a0.80 0.80 0 1 0 1.60 0a0.80 0.80 0 1 0 -1.60 0M362.5 146.2a0.80 0.80 0 1 0 1.60 0a0.80 0.80 0 1 0 -1.60 0M364.6 146.3a0.80 0.80 0 1 0 1.60 0a0.80 0.80 0 1 0 -1.60 0M366.8 145.9a0.80 0.80 0 1 0 1.60 0a0.80 0.80 0 1 0 -1.60 0M368.9 146.8a0.80 0.80 0 1 0 1.60 0a0.80 0.80 0 1 0 -1.60 0M371.1 144.1a0.80 0.80 0 1 0 1.60 0a0.80 0.80 0 1 0 -1.60 0M373.3 144.3a0.80 0.80 0 1 0 1.60 0a0.80 0.80 0 1 0 -1.60 0M375.4 143.1a0.80 0.80 0 1 0 1.60 0a0.80 0.80 0 1 0 -1.60 0M377.6 142.5a0.80 0.80 0 1 0 1.60 0a0.80 0.80 0 1 0 -1.60 0M379.7 141.3a0.80 0.80 0 1 0 1.60 0a0.80 0.80 0 1 0 -1.60 0M381.9 139.6a0.80 0.80 0 1 0 1.60 0a0.80 0.80 0 1 0 -1.60 0M384.1 139.3a0.80 0.80 0 1 0 1.60 0a0.80 0.80 0 1 0 -1.60 0M386.2 136.6a0.80 0.80 0 1 0 1.60 0a0.80 0.80 0 1 0 -1.60 0M388.4 138.0a0.80 0.80 0 1 0 1.60 0a0.80 0.80 0 1 0 -1.60 0M390.5 134.6a0.80 0.80 0 1 0 1.60 0a0.80 0.80 0 1 0 -1.60 0M392.7 135.0a0.80 0.80 0 1 0 1.60 0a0.80 0.80 0 1 0 -1.60 0M394.9 136.0a0.80 0.80 0 1 0 1.60 0a0.80 0.80 0 1 0 -1.60 0M397.0 132.5a0.80 0.80 0 1 0 1.60 0a0.80 0.80 0 1 0 -1.60 0M399.2 131.7a0.80 0.80 0 1 0 1.60 0a0.80 0.80 0 1 0 -1.60 0M401.3 132.0a0.80 0.80 0 1 0 1.60 0a0.80 0.80 0 1 0 -1.60 0M403.5 129.7a0.80 0.80 0 1 0 1.60 0a0.80 0.80 0 1 0 -1.60 0M407.2 128.0a0.80 0.80 0 1 0 1.60 0a0.80 0.80 0 1 0 -1.60 0"/>
<polyline fill="none" stroke="#fb7cc0" stroke-width="0.42" points="285.5,156.1 287.7,155.9 289.8,155.7 292.0,154.6 294.1,155.5 296.3,154.9 298.5,153.4 300.6,152.9 302.8,151.8 304.9,152.8 307.1,151.5 309.3,152.3 311.4,151.6 313.6,151.4 315.7,152.2 317.9,152.0 320.1,150.5 322.2,149.4 324.4,149.7 326.5,148.5 328.7,148.1 330.9,148.3 333.0,147.4 335.2,145.9 337.3,147.7 339.5,145.8 341.7,146.2 343.8,144.5 346.0,144.1 348.1,141.9 350.3,143.9 352.5,142.8 354.6,139.8 356.8,138.8 358.9,137.9 361.1,139.3 363.3,136.8 365.4,136.2 367.6,134.9 369.7,134.0 371.9,131.9 374.1,131.8 376.2,129.2 378.4,129.3 380.5,128.5 382.7,127.5 384.9,125.6 387.0,123.7 389.2,123.6 391.3,121.6 393.5,122.5 395.7,120.3 397.8,118.0 400.0,115.8 404.0,113.0"/>
<path fill="#fff" stroke="#fb7cc0" stroke-width="0.6" d="M284.7 156.1a0.80 0.80 0 1 0 1.60 0a0.80 0.80 0 1 0 -1.60 0M286.9 155.9a0.80 0.80 0 1 0 1.60 0a0.80 0.80 0 1 0 -1.60 0M289.0 155.7a0.80 0.80 0 1 0 1.60 0a0.80 0.80 0 1 0 -1.60 0M291.2 154.6a0.80 0.80 0 1 0 1.60 0a0.80 0.80 0 1 0 -1.60 0M293.3 155.5a0.80 0.80 0 1 0 1.60 0a0.80 0.80 0 1 0 -1.60 0M295.5 154.9a0.80 0.80 0 1 0 1.60 0a0.80 0.80 0 1 0 -1.60 0M297.7 153.4a0.80 0.80 0 1 0 1.60 0a0.80 0.80 0 1 0 -1.60 0M299.8 152.9a0.80 0.80 0 1 0 1.60 0a0.80 0.80 0 1 0 -1.60 0M302.0 151.8a0.80 0.80 0 1 0 1.60 0a0.80 0.80 0 1 0 -1.60 0M304.1 152.8a0.80 0.80 0 1 0 1.60 0a0.80 0.80 0 1 0 -1.60 0M306.3 151.5a0.80 0.80 0 1 0 1.60 0a0.80 0.80 0 1 0 -1.60 0M308.5 152.3a0.80 0.80 0 1 0 1.60 0a0.80 0.80 0 1 0 -1.60 0M310.6 151.6a0.80 0.80 0 1 0 1.60 0a0.80 0.80 0 1 0 -1.60 0M312.8 151.4a0.80 0.80 0 1 0 1.60 0a0.80 0.80 0 1 0 -1.60 0M314.9 152.2a0.80 0.80 0 1 0 1.60 0a0.80 0.80 0 1 0 -1.60 0M317.1 152.0a0.80 0.80 0 1 0 1.60 0a0.80 0.80 0 1 0 -1.60 0M319.3 150.5a0.80 0.80 0 1 0 1.60 0a0.80 0.80 0 1 0 -1.60 0M321.4 149.4a0.80 0.80 0 1 0 1.60 0a0.80 0.80 0 1 0 -1.60 0M323.6 149.7a0.80 0.80 0 1 0 1.60 0a0.80 0.80 0 1 0 -1.60 0M325.7 148.5a0.80 0.80 0 1 0 1.60 0a0.80 0.80 0 1 0 -1.60 0M327.9 148.1a0.80 0.80 0 1 0 1.60 0a0.80 0.80 0 1 0 -1.60 0M330.1 148.3a0.80 0.80 0 1 0 1.60 0a0.80 0.80 0 1 0 -1.60 0M332.2 147.4a0.80 0.80 0 1 0 1.60 0a0.80 0.80 0 1 0 -1.60 0M334.4 145.9a0.80 0.80 0 1 0 1.60 0a0.80 0.80 0 1 0 -1.60 0M336.5 147.7a0.80 0.80 0 1 0 1.60 0a0.80 0.80 0 1 0 -1.60 0M338.7 145.8a0.80 0.80 0 1 0 1.60 0a0.80 0.80 0 1 0 -1.60 0M340.9 146.2a0.80 0.80 0 1 0 1.60 0a0.80 0.80 0 1 0 -1.60 0M343.0 144.5a0.80 0.80 0 1 0 1.60 0a0.80 0.80 0 1 0 -1.60 0M345.2 144.1a0.80 0.80 0 1 0 1.60 0a0.80 0.80 0 1 0 -1.60 0M347.3 141.9a0.80 0.80 0 1 0 1.60 0a0.80 0.80 0 1 0 -1.60 0M349.5 143.9a0.80 0.80 0 1 0 1.60 0a0.80 0.80 0 1 0 -1.60 0M351.7 142.8a0.80 0.80 0 1 0 1.60 0a0.80 0.80 0 1 0 -1.60 0M353.8 139.8a0.80 0.80 0 1 0 1.60 0a0.80 0.80 0 1 0 -1.60 0M356.0 138.8a0.80 0.80 0 1 0 1.60 0a0.80 0.80 0 1 0 -1.60 0M358.1 137.9a0.80 0.80 0 1 0 1.60 0a0.80 0.80 0 1 0 -1.60 0M360.3 139.3a0.80 0.80 0 1 0 1.60 0a0.80 0.80 0 1 0 -1.60 0M362.5 136.8a0.80 0.80 0 1 0 1.60 0a0.80 0.80 0 1 0 -1.60 0M364.6 136.2a0.80 0.80 0 1 0 1.60 0a0.80 0.80 0 1 0 -1.60 0M366.8 134.9a0.80 0.80 0 1 0 1.60 0a0.80 0.80 0 1 0 -1.60 0M368.9 134.0a0.80 0.80 0 1 0 1.60 0a0.80 0.80 0 1 0 -1.60 0M371.1 131.9a0.80 0.80 0 1 0 1.60 0a0.80 0.80 0 1 0 -1.60 0M373.3 131.8a0.80 0.80 0 1 0 1.60 0a0.80 0.80 0 1 0 -1.60 0M375.4 129.2a0.80 0.80 0 1 0 1.60 0a0.80 0.80 0 1 0 -1.60 0M377.6 129.3a0.80 0.80 0 1 0 1.60 0a0.80 0.80 0 1 0 -1.60 0M379.7 128.5a0.80 0.80 0 1 0 1.60 0a0.80 0.80 0 1 0 -1.60 0M381.9 127.5a0.80 0.80 0 1 0 1.60 0a0.80 0.80 0 1 0 -1.60 0M384.1 125.6a0.80 0.80 0 1 0 1.60 0a0.80 0.80 0 1 0 -1.60 0M386.2 123.7a0.80 0.80 0 1 0 1.60 0a0.80 0.80 0 1 0 -1.60 0M388.4 123.6a0.80 0.80 0 1 0 1.60 0a0.80 0.80 0 1 0 -1.60 0M390.5 121.6a0.80 0.80 0 1 0 1.60 0a0.80 0.80 0 1 0 -1.60 0M392.7 122.5a0.80 0.80 0 1 0 1.60 0a0.80 0.80 0 1 0 -1.60 0M394.9 120.3a0.80 0.80 0 1 0 1.60 0a0.80 0.80 0 1 0 -1.60 0M397.0 118.0a0.80 0.80 0 1 0 1.60 0a0.80 0.80 0 1 0 -1.60 0M399.2 115.8a0.80 0.80 0 1 0 1.60 0a0.80 0.80 0 1 0 -1.60 0M403.2 113.0a0.80 0.80 0 1 0 1.60 0a0.80 0.80 0 1 0 -1.60 0"/>
<polyline fill="none" stroke="#fb7cc0" stroke-width="0.42" points="336.0,155.6 338.2,155.6 340.3,155.6 342.5,155.2 344.6,154.7 346.8,155.3 349.0,152.5 351.1,152.5 353.3,154.2 355.4,149.6 357.6,150.2 359.8,150.2 361.9,149.5 364.1,149.0 366.2,147.8 368.4,147.6 370.6,146.6 372.7,146.6 374.9,143.3 377.0,143.6 379.2,143.8 381.4,141.9 383.5,140.9 385.7,141.7 387.8,139.4 390.0,139.8 392.2,139.0 394.3,137.6 396.5,136.7 398.6,134.9 400.8,132.2 403.0,132.6 405.1,131.9 407.3,129.4 409.4,128.5 412.0,127.0"/>
<path fill="#fff" stroke="#fb7cc0" stroke-width="0.6" d="M335.2 155.6a0.80 0.80 0 1 0 1.60 0a0.80 0.80 0 1 0 -1.60 0M337.4 155.6a0.80 0.80 0 1 0 1.60 0a0.80 0.80 0 1 0 -1.60 0M339.5 155.6a0.80 0.80 0 1 0 1.60 0a0.80 0.80 0 1 0 -1.60 0M341.7 155.2a0.80 0.80 0 1 0 1.60 0a0.80 0.80 0 1 0 -1.60 0M343.8 154.7a0.80 0.80 0 1 0 1.60 0a0.80 0.80 0 1 0 -1.60 0M346.0 155.3a0.80 0.80 0 1 0 1.60 0a0.80 0.80 0 1 0 -1.60 0M348.2 152.5a0.80 0.80 0 1 0 1.60 0a0.80 0.80 0 1 0 -1.60 0M350.3 152.5a0.80 0.80 0 1 0 1.60 0a0.80 0.80 0 1 0 -1.60 0M352.5 154.2a0.80 0.80 0 1 0 1.60 0a0.80 0.80 0 1 0 -1.60 0M354.6 149.6a0.80 0.80 0 1 0 1.60 0a0.80 0.80 0 1 0 -1.60 0M356.8 150.2a0.80 0.80 0 1 0 1.60 0a0.80 0.80 0 1 0 -1.60 0M359.0 150.2a0.80 0.80 0 1 0 1.60 0a0.80 0.80 0 1 0 -1.60 0M361.1 149.5a0.80 0.80 0 1 0 1.60 0a0.80 0.80 0 1 0 -1.60 0M363.3 149.0a0.80 0.80 0 1 0 1.60 0a0.80 0.80 0 1 0 -1.60 0M365.4 147.8a0.80 0.80 0 1 0 1.60 0a0.80 0.80 0 1 0 -1.60 0M367.6 147.6a0.80 0.80 0 1 0 1.60 0a0.80 0.80 0 1 0 -1.60 0M369.8 146.6a0.80 0.80 0 1 0 1.60 0a0.80 0.80 0 1 0 -1.60 0M371.9 146.6a0.80 0.80 0 1 0 1.60 0a0.80 0.80 0 1 0 -1.60 0M374.1 143.3a0.80 0.80 0 1 0 1.60 0a0.80 0.80 0 1 0 -1.60 0M376.2 143.6a0.80 0.80 0 1 0 1.60 0a0.80 0.80 0 1 0 -1.60 0M378.4 143.8a0.80 0.80 0 1 0 1.60 0a0.80 0.80 0 1 0 -1.60 0M380.6 141.9a0.80 0.80 0 1 0 1.60 0a0.80 0.80 0 1 0 -1.60 0M382.7 140.9a0.80 0.80 0 1 0 1.60 0a0.80 0.80 0 1 0 -1.60 0M384.9 141.7a0.80 0.80 0 1 0 1.60 0a0.80 0.80 0 1 0 -1.60 0M387.0 139.4a0.80 0.80 0 1 0 1.60 0a0.80 0.80 0 1 0 -1.60 0M389.2 139.8a0.80 0.80 0 1 0 1.60 0a0.80 0.80 0 1 0 -1.60 0M391.4 139.0a0.80 0.80 0 1 0 1.60 0a0.80 0.80 0 1 0 -1.60 0M393.5 137.6a0.80 0.80 0 1 0 1.60 0a0.80 0.80 0 1 0 -1.60 0M395.7 136.7a0.80 0.80 0 1 0 1.60 0a0.80 0.80 0 1 0 -1.60 0M397.8 134.9a0.80 0.80 0 1 0 1.60 0a0.80 0.80 0 1 0 -1.60 0M400.0 132.2a0.80 0.80 0 1 0 1.60 0a0.80 0.80 0 1 0 -1.60 0M402.2 132.6a0.80 0.80 0 1 0 1.60 0a0.80 0.80 0 1 0 -1.60 0M404.3 131.9a0.80 0.80 0 1 0 1.60 0a0.80 0.80 0 1 0 -1.60 0M406.5 129.4a0.80 0.80 0 1 0 1.60 0a0.80 0.80 0 1 0 -1.60 0M408.6 128.5a0.80 0.80 0 1 0 1.60 0a0.80 0.80 0 1 0 -1.60 0M411.2 127.0a0.80 0.80 0 1 0 1.60 0a0.80 0.80 0 1 0 -1.60 0"/>
<polyline fill="none" stroke="#fb7cc0" stroke-width="0.42" points="338.0,150.8 340.2,151.5 342.3,151.9 344.5,149.4 346.6,149.5 348.8,148.7 351.0,149.5 353.1,148.0 355.3,148.0 357.4,146.0 359.6,146.1 361.8,145.3 363.9,142.8 366.1,144.9 368.2,143.5 370.4,140.2 372.6,141.7 374.7,140.0 376.9,139.7 379.0,138.7 381.2,135.8 383.4,135.8 385.5,136.3 387.7,132.9 389.8,131.2 392.0,129.5 394.2,128.5 396.3,128.9 400.0,126.5"/>
<path fill="#fff" stroke="#fb7cc0" stroke-width="0.6" d="M337.2 150.8a0.80 0.80 0 1 0 1.60 0a0.80 0.80 0 1 0 -1.60 0M339.4 151.5a0.80 0.80 0 1 0 1.60 0a0.80 0.80 0 1 0 -1.60 0M341.5 151.9a0.80 0.80 0 1 0 1.60 0a0.80 0.80 0 1 0 -1.60 0M343.7 149.4a0.80 0.80 0 1 0 1.60 0a0.80 0.80 0 1 0 -1.60 0M345.8 149.5a0.80 0.80 0 1 0 1.60 0a0.80 0.80 0 1 0 -1.60 0M348.0 148.7a0.80 0.80 0 1 0 1.60 0a0.80 0.80 0 1 0 -1.60 0M350.2 149.5a0.80 0.80 0 1 0 1.60 0a0.80 0.80 0 1 0 -1.60 0M352.3 148.0a0.80 0.80 0 1 0 1.60 0a0.80 0.80 0 1 0 -1.60 0M354.5 148.0a0.80 0.80 0 1 0 1.60 0a0.80 0.80 0 1 0 -1.60 0M356.6 146.0a0.80 0.80 0 1 0 1.60 0a0.80 0.80 0 1 0 -1.60 0M358.8 146.1a0.80 0.80 0 1 0 1.60 0a0.80 0.80 0 1 0 -1.60 0M361.0 145.3a0.80 0.80 0 1 0 1.60 0a0.80 0.80 0 1 0 -1.60 0M363.1 142.8a0.80 0.80 0 1 0 1.60 0a0.80 0.80 0 1 0 -1.60 0M365.3 144.9a0.80 0.80 0 1 0 1.60 0a0.80 0.80 0 1 0 -1.60 0M367.4 143.5a0.80 0.80 0 1 0 1.60 0a0.80 0.80 0 1 0 -1.60 0M369.6 140.2a0.80 0.80 0 1 0 1.60 0a0.80 0.80 0 1 0 -1.60 0M371.8 141.7a0.80 0.80 0 1 0 1.60 0a0.80 0.80 0 1 0 -1.60 0M373.9 140.0a0.80 0.80 0 1 0 1.60 0a0.80 0.80 0 1 0 -1.60 0M376.1 139.7a0.80 0.80 0 1 0 1.60 0a0.80 0.80 0 1 0 -1.60 0M378.2 138.7a0.80 0.80 0 1 0 1.60 0a0.80 0.80 0 1 0 -1.60 0M380.4 135.8a0.80 0.80 0 1 0 1.60 0a0.80 0.80 0 1 0 -1.60 0M382.6 135.8a0.80 0.80 0 1 0 1.60 0a0.80 0.80 0 1 0 -1.60 0M384.7 136.3a0.80 0.80 0 1 0 1.60 0a0.80 0.80 0 1 0 -1.60 0M386.9 132.9a0.80 0.80 0 1 0 1.60 0a0.80 0.80 0 1 0 -1.60 0M389.0 131.2a0.80 0.80 0 1 0 1.60 0a0.80 0.80 0 1 0 -1.60 0M391.2 129.5a0.80 0.80 0 1 0 1.60 0a0.80 0.80 0 1 0 -1.60 0M393.4 128.5a0.80 0.80 0 1 0 1.60 0a0.80 0.80 0 1 0 -1.60 0M395.5 128.9a0.80 0.80 0 1 0 1.60 0a0.80 0.80 0 1 0 -1.60 0M399.2 126.5a0.80 0.80 0 1 0 1.60 0a0.80 0.80 0 1 0 -1.60 0"/>
<polyline fill="none" stroke="#fb7cc0" stroke-width="0.42" points="332.0,158.3 334.2,157.8 336.3,158.9 338.5,156.4 340.6,155.8 342.8,156.3 345.0,155.8 347.1,154.1 349.3,153.4 351.4,154.2 353.6,153.7 355.8,151.8 357.9,152.3 360.1,151.5 362.2,151.7 364.4,150.5 366.6,149.8 368.7,148.8 370.9,149.5 373.0,149.1 375.2,146.7 377.4,147.2 379.5,144.9 381.7,144.9 383.8,144.7 386.0,144.7 388.2,141.8 390.3,141.3 392.5,140.7 394.6,138.0 396.8,138.6 399.0,136.8 401.1,136.9 403.3,134.1 405.4,132.0 407.6,133.2 409.8,132.1 411.9,129.7 416.0,127.5"/>
<path fill="#fff" stroke="#fb7cc0" stroke-width="0.6" d="M331.2 158.3a0.80 0.80 0 1 0 1.60 0a0.80 0.80 0 1 0 -1.60 0M333.4 157.8a0.80 0.80 0 1 0 1.60 0a0.80 0.80 0 1 0 -1.60 0M335.5 158.9a0.80 0.80 0 1 0 1.60 0a0.80 0.80 0 1 0 -1.60 0M337.7 156.4a0.80 0.80 0 1 0 1.60 0a0.80 0.80 0 1 0 -1.60 0M339.8 155.8a0.80 0.80 0 1 0 1.60 0a0.80 0.80 0 1 0 -1.60 0M342.0 156.3a0.80 0.80 0 1 0 1.60 0a0.80 0.80 0 1 0 -1.60 0M344.2 155.8a0.80 0.80 0 1 0 1.60 0a0.80 0.80 0 1 0 -1.60 0M346.3 154.1a0.80 0.80 0 1 0 1.60 0a0.80 0.80 0 1 0 -1.60 0M348.5 153.4a0.80 0.80 0 1 0 1.60 0a0.80 0.80 0 1 0 -1.60 0M350.6 154.2a0.80 0.80 0 1 0 1.60 0a0.80 0.80 0 1 0 -1.60 0M352.8 153.7a0.80 0.80 0 1 0 1.60 0a0.80 0.80 0 1 0 -1.60 0M355.0 151.8a0.80 0.80 0 1 0 1.60 0a0.80 0.80 0 1 0 -1.60 0M357.1 152.3a0.80 0.80 0 1 0 1.60 0a0.80 0.80 0 1 0 -1.60 0M359.3 151.5a0.80 0.80 0 1 0 1.60 0a0.80 0.80 0 1 0 -1.60 0M361.4 151.7a0.80 0.80 0 1 0 1.60 0a0.80 0.80 0 1 0 -1.60 0M363.6 150.5a0.80 0.80 0 1 0 1.60 0a0.80 0.80 0 1 0 -1.60 0M365.8 149.8a0.80 0.80 0 1 0 1.60 0a0.80 0.80 0 1 0 -1.60 0M367.9 148.8a0.80 0.80 0 1 0 1.60 0a0.80 0.80 0 1 0 -1.60 0M370.1 149.5a0.80 0.80 0 1 0 1.60 0a0.80 0.80 0 1 0 -1.60 0M372.2 149.1a0.80 0.80 0 1 0 1.60 0a0.80 0.80 0 1 0 -1.60 0M374.4 146.7a0.80 0.80 0 1 0 1.60 0a0.80 0.80 0 1 0 -1.60 0M376.6 147.2a0.80 0.80 0 1 0 1.60 0a0.80 0.80 0 1 0 -1.60 0M378.7 144.9a0.80 0.80 0 1 0 1.60 0a0.80 0.80 0 1 0 -1.60 0M380.9 144.9a0.80 0.80 0 1 0 1.60 0a0.80 0.80 0 1 0 -1.60 0M383.0 144.7a0.80 0.80 0 1 0 1.60 0a0.80 0.80 0 1 0 -1.60 0M385.2 144.7a0.80 0.80 0 1 0 1.60 0a0.80 0.80 0 1 0 -1.60 0M387.4 141.8a0.80 0.80 0 1 0 1.60 0a0.80 0.80 0 1 0 -1.60 0M389.5 141.3a0.80 0.80 0 1 0 1.60 0a0.80 0.80 0 1 0 -1.60 0M391.7 140.7a0.80 0.80 0 1 0 1.60 0a0.80 0.80 0 1 0 -1.60 0M393.8 138.0a0.80 0.80 0 1 0 1.60 0a0.80 0.80 0 1 0 -1.60 0M396.0 138.6a0.80 0.80 0 1 0 1.60 0a0.80 0.80 0 1 0 -1.60 0M398.2 136.8a0.80 0.80 0 1 0 1.60 0a0.80 0.80 0 1 0 -1.60 0M400.3 136.9a0.80 0.80 0 1 0 1.60 0a0.80 0.80 0 1 0 -1.60 0M402.5 134.1a0.80 0.80 0 1 0 1.60 0a0.80 0.80 0 1 0 -1.60 0M404.6 132.0a0.80 0.80 0 1 0 1.60 0a0.80 0.80 0 1 0 -1.60 0M406.8 133.2a0.80 0.80 0 1 0 1.60 0a0.80 0.80 0 1 0 -1.60 0M409.0 132.1a0.80 0.80 0 1 0 1.60 0a0.80 0.80 0 1 0 -1.60 0M411.1 129.7a0.80 0.80 0 1 0 1.60 0a0.80 0.80 0 1 0 -1.60 0M415.2 127.5a0.80 0.80 0 1 0 1.60 0a0.80 0.80 0 1 0 -1.60 0"/>
<polyline fill="none" stroke="#3a86f5" stroke-width="0.50" points="285.5,159.4 289.8,159.9 294.1,160.3 298.5,159.4 302.8,159.8 307.1,160.1 311.4,160.5 315.7,160.1 320.1,160.3 324.4,159.9 328.7,160.2 333.0,160.7 337.3,159.8 341.7,160.9 346.0,159.6 350.3,159.8 354.6,158.6 358.9,156.9 363.3,154.3 367.6,152.7 371.9,152.4 376.2,151.2 380.5,149.8 384.9,149.1 389.2,146.4 393.5,144.7 401.4,141.2 407.3,136.9 414.3,134.8 420.6,132.9 427.9,130.0 435.0,127.1"/>
<path fill="#3a86f5" stroke="#3a86f5" stroke-width="0.3" stroke-linejoin="miter" d="M285.5 157.8l1.55 2.71l-3.10 0zM289.8 158.3l1.55 2.71l-3.10 0zM294.1 158.7l1.55 2.71l-3.10 0zM298.5 157.8l1.55 2.71l-3.10 0zM302.8 158.1l1.55 2.71l-3.10 0zM307.1 158.4l1.55 2.71l-3.10 0zM311.4 158.8l1.55 2.71l-3.10 0zM315.7 158.5l1.55 2.71l-3.10 0zM320.1 158.7l1.55 2.71l-3.10 0zM324.4 158.3l1.55 2.71l-3.10 0zM328.7 158.6l1.55 2.71l-3.10 0zM333.0 159.1l1.55 2.71l-3.10 0zM337.3 158.1l1.55 2.71l-3.10 0zM341.7 159.3l1.55 2.71l-3.10 0zM346.0 158.0l1.55 2.71l-3.10 0zM350.3 158.2l1.55 2.71l-3.10 0zM354.6 157.0l1.55 2.71l-3.10 0zM358.9 155.3l1.55 2.71l-3.10 0zM363.3 152.7l1.55 2.71l-3.10 0zM367.6 151.0l1.55 2.71l-3.10 0zM371.9 150.8l1.55 2.71l-3.10 0zM376.2 149.6l1.55 2.71l-3.10 0zM380.5 148.2l1.55 2.71l-3.10 0zM384.9 147.5l1.55 2.71l-3.10 0zM389.2 144.8l1.55 2.71l-3.10 0zM393.5 143.1l1.55 2.71l-3.10 0zM401.4 139.6l1.55 2.71l-3.10 0zM407.3 135.3l1.55 2.71l-3.10 0zM414.3 133.2l1.55 2.71l-3.10 0zM420.6 131.3l1.55 2.71l-3.10 0zM427.9 128.4l1.55 2.71l-3.10 0zM435.0 125.5l1.55 2.71l-3.10 0z"/>
<polyline fill="none" stroke="#f5000a" stroke-width="1.80" points="285.5,161.7 287.7,161.7 289.8,161.7 292.0,161.7 294.1,161.6 296.3,161.6 298.5,161.5 300.6,161.5 302.8,161.4 304.9,161.3 307.1,161.2 309.3,161.1 311.4,161.0 313.6,160.9 315.7,160.7 317.9,160.6 320.1,160.5 322.2,160.3 324.4,160.1 326.5,159.9 328.7,159.8 330.9,159.6 333.0,159.3 335.2,159.1 337.3,158.9 339.5,158.7 341.7,158.4 343.8,158.2 346.0,157.9 348.1,157.6 350.3,157.3 352.5,157.0 354.6,156.7 356.8,156.4 358.9,156.1 361.1,155.7 363.3,155.4 365.4,155.0 367.6,154.7 369.7,154.3 371.9,153.9 374.1,153.5 376.2,153.1 378.4,152.7 380.5,152.3 382.7,151.9 384.9,151.4 387.0,151.0 389.2,150.5 391.3,150.0 393.5,149.5 395.7,149.1 397.8,148.6 400.0,148.0 402.1,147.5 404.3,147.0 406.5,146.5 408.6,145.9 410.8,145.4 412.9,144.8 415.1,144.2 417.3,143.6 419.4,143.0 421.6,142.4 423.7,141.8 425.9,141.2 428.1,140.5 430.2,139.9 432.4,139.2 434.5,138.6 436.7,137.9"/>
<rect x="270.2" y="40" width="176.8" height="142" fill="none" stroke="#000" stroke-width="1.3"/>
<path d="M270 161.7h4M270 137.4h4M270 113.1h4M270 88.8h4M270 64.5h4M270 40.2h4M270 173.8h2.5M270 149.5h2.5M270 125.2h2.5M270 100.9h2.5M270 76.6h2.5M270 52.3h2.5M285.5 182v-4M328.7 182v-4M371.9 182v-4M415.1 182v-4M307.1 182v-2.5M350.3 182v-2.5M393.5 182v-2.5M436.7 182v-2.5" stroke="#000" stroke-width="1.15" fill="none"/>
<text x="266.3" y="165.0" text-anchor="end" font-size="10">0µ</text>
<text x="266.3" y="140.7" text-anchor="end" font-size="10">1000µ</text>
<text x="266.3" y="116.4" text-anchor="end" font-size="10">2000µ</text>
<text x="266.3" y="92.1" text-anchor="end" font-size="10">3000µ</text>
<text x="266.3" y="67.8" text-anchor="end" font-size="10">4000µ</text>
<text x="266.3" y="43.5" text-anchor="end" font-size="10">5000µ</text>
<text x="285.5" y="194.2" text-anchor="middle" font-size="10">0</text>
<text x="328.7" y="194.2" text-anchor="middle" font-size="10">2000</text>
<text x="371.9" y="194.2" text-anchor="middle" font-size="10">4000</text>
<text x="415.1" y="194.2" text-anchor="middle" font-size="10">6000</text>
<text x="359" y="212.4" text-anchor="middle" font-size="12.2">Voltage (V)</text>
<text transform="translate(228.6,110.0) rotate(-90)" text-anchor="middle" font-size="12">First principal strain <tspan font-style="italic">e</tspan><tspan font-size="8" dy="2.4">1</tspan></text>
<path d="M301.6 59h18.2" stroke="#fb7cc0" stroke-width="0.8"/>
<circle cx="310.7" cy="59" r="0.9" fill="#fff" stroke="#fb7cc0" stroke-width="0.6"/>
<path d="M301.6 70.1h18.2" stroke="#3a86f5" stroke-width="0.8"/>
<path d="M310.7 68.4l1.6 2.7h-3.2z" fill="#3a86f5"/>
<path d="M301.6 80.4h18.2" stroke="#f5000a" stroke-width="1.5"/>
<text x="324.2" y="62" font-size="8.8">Pre-treated</text>
<text x="324.2" y="73" font-size="8.8">Pristine</text>
<text x="324.2" y="83.4" font-size="8.8">Calculated</text>
</svg>
</body></html>
